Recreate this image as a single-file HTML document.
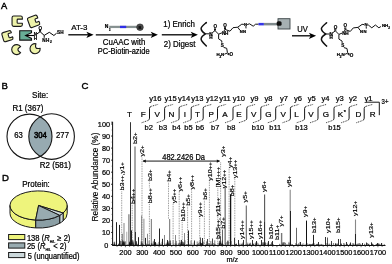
<!DOCTYPE html>
<html><head><meta charset="utf-8"><style>
html,body{margin:0;padding:0;background:#fff;}
body{width:392px;height:264px;overflow:hidden;}
svg{display:block;font-family:"Liberation Sans", Arial, sans-serif;}
text{stroke:#000;stroke-width:0.22px;}
.at{stroke-width:0.22px;}
.rl{stroke-width:0.2px;}
</style></head><body>
<svg width="392" height="264" viewBox="0 0 392 264">
<rect width="392" height="264" fill="#fff"/>
<text x="0" y="0" font-size="9.3" text-anchor="start" font-weight="normal" fill="#000" transform="translate(1.0,8.5) scale(1,1.0)" style="stroke-width:0.45px">A</text>
<path transform="translate(17.2,21.2) rotate(0)" d="M-3.5500000000000003,-5.15 L3.5500000000000003,-5.15 Q5.15,-5.15 5.15,-3.5500000000000003 L5.15,-2.05 L0.7500000000000002,-2.05 Q-0.04999999999999982,-2.05 -0.04999999999999982,-1.2499999999999998 L-0.04999999999999982,1.2499999999999998 Q-0.04999999999999982,2.05 0.7500000000000002,2.05 L5.15,2.05 L5.15,3.5500000000000003 Q5.15,5.15 3.5500000000000003,5.15 L-3.5500000000000003,5.15 Q-5.15,5.15 -5.15,3.5500000000000003 L-5.15,-3.5500000000000003 Q-5.15,-5.15 -3.5500000000000003,-5.15 Z" fill="#eef3aa" stroke="#1a1a1a" stroke-width="1.1" stroke-linejoin="round"/>
<path transform="translate(33.6,21.4) rotate(-20)" d="M-3.4999999999999996,-5.2 L3.4999999999999996,-5.2 Q5.1,-5.2 5.1,-3.6 L5.1,-1.8 L2.6999999999999993,-1.8 Q1.8999999999999995,-1.8 1.8999999999999995,-1.0 L1.8999999999999995,1.0 Q1.8999999999999995,1.8 2.6999999999999993,1.8 L5.1,1.8 L5.1,3.6 Q5.1,5.2 3.4999999999999996,5.2 L-3.4999999999999996,5.2 Q-5.1,5.2 -5.1,3.6 L-5.1,-3.6 Q-5.1,-5.2 -3.4999999999999996,-5.2 Z" fill="#eef3aa" stroke="#1a1a1a" stroke-width="1.1" stroke-linejoin="round"/>
<path transform="translate(7.4,36.2) rotate(-17)" d="M-3.1999999999999997,-4.7 L3.1999999999999997,-4.7 Q4.8,-4.7 4.8,-3.1 L4.8,-2.2 L1.9999999999999998,-2.2 Q1.1999999999999997,-2.2 1.1999999999999997,-1.4000000000000001 L1.1999999999999997,1.4000000000000001 Q1.1999999999999997,2.2 1.9999999999999998,2.2 L4.8,2.2 L4.8,3.1 Q4.8,4.7 3.1999999999999997,4.7 L-3.1999999999999997,4.7 Q-4.8,4.7 -4.8,3.1 L-4.8,-3.1 Q-4.8,-4.7 -3.1999999999999997,-4.7 Z" fill="#eef3aa" stroke="#1a1a1a" stroke-width="1.1" stroke-linejoin="round"/>
<path transform="translate(16.7,49.6) rotate(0)" d="M3.94,-3.08 A5.0,5.0 0 1 0 3.94,3.08 Q1.00,1.25 1.25,0 Q1.00,-1.25 3.94,-3.08 Z" fill="#eef3aa" stroke="#1a1a1a" stroke-width="1.1" stroke-linejoin="round"/>
<path transform="translate(35.1,48.7) rotate(-42)" d="M4.02,-3.14 A5.1,5.1 0 1 0 4.02,3.14 Q1.02,1.27 1.27,0 Q1.02,-1.27 4.02,-3.14 Z" fill="#eef3aa" stroke="#1a1a1a" stroke-width="1.1" stroke-linejoin="round"/>
<path d="M19.7,30.7 L31.5,30.7 L31.5,32.7 L25.6,35.5 L31.5,38.4 L31.5,40.1 L19.7,40.1 Z" fill="#68ad96" stroke="#111" stroke-width="1.1" stroke-linejoin="miter"/>
<line x1="25.6" y1="35.5" x2="34.2" y2="35.5" stroke="#000" stroke-width="1.1" />
<text x="35.3" y="36.46" font-size="4.6" text-anchor="middle" font-weight="bold" class="at">N</text>
<text x="35.3" y="39.66" font-size="4.6" text-anchor="middle" font-weight="bold" class="at">H</text>
<line x1="36.9" y1="34.0" x2="40.1" y2="31.7" stroke="#000" stroke-width="1.0" />
<line x1="39.6" y1="31.7" x2="39.6" y2="29.4" stroke="#000" stroke-width="1.0" />
<line x1="40.6" y1="31.7" x2="40.6" y2="29.4" stroke="#000" stroke-width="1.0" />
<text x="40.3" y="29.76" font-size="4.6" text-anchor="middle" font-weight="bold" class="at">O</text>
<line x1="40.1" y1="31.7" x2="44.2" y2="35.4" stroke="#000" stroke-width="1.0" />
<line x1="44.2" y1="35.4" x2="44.2" y2="37.8" stroke="#000" stroke-width="1.0" />
<text x="44.0" y="42.16" font-size="4.6" text-anchor="middle" font-weight="bold" class="at">N</text>
<text x="47.6" y="42.16" font-size="4.6" text-anchor="middle" font-weight="bold" class="at">H</text>
<text x="50.0" y="42.6" font-size="3.2" font-weight="bold" class="at">2</text>
<line x1="44.2" y1="35.4" x2="49.3" y2="32.3" stroke="#000" stroke-width="1.0" />
<line x1="49.3" y1="32.3" x2="53.9" y2="35.5" stroke="#000" stroke-width="1.0" />
<line x1="53.9" y1="35.5" x2="56.6" y2="33.2" stroke="#000" stroke-width="1.0" />
<text x="60.3" y="33.66" font-size="4.6" text-anchor="middle" font-weight="bold" class="at">SH</text>
<line x1="68.3" y1="34.8" x2="88.39999999999999" y2="34.8" stroke="#000" stroke-width="1.3" />
<path d="M86.39999999999999,31.699999999999996 L93.6,34.8 L86.39999999999999,37.9 L88.19999999999999,34.8 Z" fill="#000"/>
<text x="0" y="0" font-size="7.95" text-anchor="start" font-weight="normal" fill="#000" transform="translate(71.2,30.0) scale(1,0.97)" >AT-3</text>
<line x1="95.8" y1="34.8" x2="152.70000000000002" y2="34.8" stroke="#000" stroke-width="1.3" />
<path d="M150.70000000000002,31.699999999999996 L157.9,34.8 L150.70000000000002,37.9 L152.50000000000003,34.8 Z" fill="#000"/>
<text x="106.5" y="28.10" font-size="5.0" text-anchor="middle" font-weight="bold" class="at">N</text>
<text x="108.9" y="31.0" font-size="2.6" font-weight="bold" class="at">3</text>
<rect x="109.6" y="26.0" width="28.0" height="1.9" fill="#8d9898" stroke="#5a6666" stroke-width="0.3"/>
<rect x="120.0" y="25.8" width="6.2" height="2.3" fill="#3030e6"/>
<circle cx="140.0" cy="27.2" r="3.3" fill="#4a4a4a" stroke="#222" stroke-width="0.6"/>
<text x="140.0" y="28.7" font-size="4.0" font-weight="bold" text-anchor="middle" fill="#111" class="at">B</text>
<text x="0" y="0" font-size="7.9" text-anchor="start" font-weight="normal" fill="#000" transform="translate(102.8,44.8) scale(1,1.1)" >CuAAC with</text>
<text x="0" y="0" font-size="7.45" text-anchor="start" font-weight="normal" fill="#000" transform="translate(97.8,53.6) scale(1,1.1)" >PC-Biotin-azide</text>
<line x1="161.8" y1="34.8" x2="192.70000000000002" y2="34.8" stroke="#000" stroke-width="1.3" />
<path d="M190.70000000000002,31.699999999999996 L197.9,34.8 L190.70000000000002,37.9 L192.50000000000003,34.8 Z" fill="#000"/>
<text x="0" y="0" font-size="7.9" text-anchor="start" font-weight="normal" fill="#000" transform="translate(163.3,27.0) scale(1,1.1)" >1) Enrich</text>
<text x="0" y="0" font-size="7.9" text-anchor="start" font-weight="normal" fill="#000" transform="translate(163.8,46.6) scale(1,1.1)" >2) Digest</text>
<path d="M206.3,22.6 C205.3,23.6 201.0,26.3 201.1,28.6 C201.2,30.6 203.5,32.6 205.4,33.8 C203.5,35.0 201.2,37.0 201.1,39.0 C201.0,41.3 205.3,44.8 206.3,45.9" fill="none" stroke="#111" stroke-width="1.5" stroke-linecap="round" stroke-linejoin="round"/>
<path d="M205.4,33.8 L209.5,33.8" fill="none" stroke="#111" stroke-width="1.0" stroke-linejoin="round"/>
<text x="210.9" y="35.56" font-size="4.6" text-anchor="middle" font-weight="bold" class="at">N</text>
<text x="210.9" y="38.76" font-size="4.6" text-anchor="middle" font-weight="bold" class="at">H</text>
<path d="M212.3,32.7 L215.0,30.6" fill="none" stroke="#111" stroke-width="1.0" stroke-linejoin="round"/>
<path d="M214.5,30.6 L214.5,28.4" fill="none" stroke="#111" stroke-width="1.0" stroke-linejoin="round"/>
<path d="M215.5,30.6 L215.5,28.4" fill="none" stroke="#111" stroke-width="1.0" stroke-linejoin="round"/>
<text x="215.2" y="28.46" font-size="4.6" text-anchor="middle" font-weight="bold" class="at">O</text>
<path d="M215.0,30.6 L218.6,34.2" fill="none" stroke="#111" stroke-width="1.0" stroke-linejoin="round"/>
<path d="M218.6,34.2 L222.0,32.8" fill="none" stroke="#111" stroke-width="1.0" stroke-linejoin="round"/>
<text x="223.6" y="34.66" font-size="4.6" text-anchor="middle" font-weight="bold" class="at">N</text>
<text x="226.6" y="34.66" font-size="4.6" text-anchor="middle" font-weight="bold" class="at">H</text>
<path d="M223.8,31.3 L225.0,29.4" fill="none" stroke="#111" stroke-width="1.0" stroke-linejoin="round"/>
<path d="M224.5,29.4 L224.5,27.2" fill="none" stroke="#111" stroke-width="1.0" stroke-linejoin="round"/>
<path d="M225.5,29.4 L225.5,27.2" fill="none" stroke="#111" stroke-width="1.0" stroke-linejoin="round"/>
<text x="225.1" y="27.06" font-size="4.6" text-anchor="middle" font-weight="bold" class="at">O</text>
<path d="M225.0,29.4 L230.0,31.2 L233.0,27.7 L237.7,27.2" fill="none" stroke="#111" stroke-width="1.0" stroke-linejoin="round"/>
<path d="M237.7,27.2 L241.8,24.2 L243.9,24.4" fill="none" stroke="#111" stroke-width="1.0" stroke-linejoin="round"/>
<path d="M237.7,27.2 L239.9,30.2" fill="none" stroke="#111" stroke-width="1.0" stroke-linejoin="round"/>
<text x="245.6" y="26.11" font-size="4.2" text-anchor="middle" font-weight="bold" class="at">N</text>
<text x="241.3" y="32.51" font-size="4.2" text-anchor="middle" font-weight="bold" class="at">N</text>
<text x="244.6" y="32.51" font-size="4.2" text-anchor="middle" font-weight="bold" class="at">N</text>
<path d="M245.9,26.0 L246.0,28.4" fill="none" stroke="#111" stroke-width="1.0" stroke-linejoin="round"/>
<path d="M218.6,34.2 L218.6,38.9 L221.8,40.9 L221.8,42.7" fill="none" stroke="#111" stroke-width="1.0" stroke-linejoin="round"/>
<text x="222.4" y="46.86" font-size="4.6" text-anchor="middle" font-weight="bold" class="at">S</text>
<path d="M223.6,47.4 L226.7,48.3 L227.4,52.6" fill="none" stroke="#111" stroke-width="1.0" stroke-linejoin="round"/>
<text x="218.1" y="56.08" font-size="4.4" text-anchor="middle" font-weight="bold" class="at">H</text>
<text x="222.7" y="56.08" font-size="4.4" text-anchor="middle" font-weight="bold" class="at">N</text>
<text x="219.5" y="57.6" font-size="3.0" font-weight="bold" class="at">2</text>
<path d="M224.4,54.2 L227.4,53.0" fill="none" stroke="#111" stroke-width="1.0" stroke-linejoin="round"/>
<path d="M227.6,53.0 L229.6,54.0" fill="none" stroke="#111" stroke-width="1.0" stroke-linejoin="round"/>
<path d="M227.3,54.0 L229.3,55.0" fill="none" stroke="#111" stroke-width="1.0" stroke-linejoin="round"/>
<text x="231.2" y="56.36" font-size="4.6" text-anchor="middle" font-weight="bold" class="at">O</text>
<path d="M247.2,24.6 L249.5,23.8 L253.2,26.2 L255.6,24.2 L258.6,24.2" fill="none" stroke="#111" stroke-width="1.0" stroke-linejoin="round"/>
<rect x="258.5" y="22.9" width="5.4" height="2.5" fill="#3535e8"/>
<rect x="263.9" y="22.9" width="14.0" height="2.5" fill="#7f8a8c"/>
<rect x="278.0" y="18.7" width="12.0" height="10.3" fill="#a6b0b2" stroke="#3a4446" stroke-width="0.9"/>
<rect x="276.7" y="21.2" width="4.9" height="4.6" rx="1.6" fill="#111"/>
<line x1="292.0" y1="35.8" x2="310.90000000000003" y2="35.8" stroke="#000" stroke-width="1.3" />
<path d="M308.90000000000003,32.699999999999996 L316.1,35.8 L308.90000000000003,38.9 L310.70000000000005,35.8 Z" fill="#000"/>
<text x="0" y="0" font-size="7.6" text-anchor="start" font-weight="normal" fill="#000" transform="translate(297.3,31.6) scale(1,1.1)" >UV</text>
<path d="M326.6,22.8 C325.6,23.8 321.3,26.5 321.4,28.8 C321.5,30.8 323.8,32.8 325.7,34.0 C323.8,35.2 321.5,37.2 321.4,39.2 C321.3,41.5 325.6,45.0 326.6,46.1" fill="none" stroke="#111" stroke-width="1.5" stroke-linecap="round" stroke-linejoin="round"/>
<path d="M325.7,34.0 L329.8,34.0" fill="none" stroke="#111" stroke-width="1.0" stroke-linejoin="round"/>
<text x="331.2" y="35.76" font-size="4.6" text-anchor="middle" font-weight="bold" class="at">N</text>
<text x="331.2" y="38.96" font-size="4.6" text-anchor="middle" font-weight="bold" class="at">H</text>
<path d="M332.6,32.9 L335.3,30.8" fill="none" stroke="#111" stroke-width="1.0" stroke-linejoin="round"/>
<path d="M334.8,30.8 L334.8,28.6" fill="none" stroke="#111" stroke-width="1.0" stroke-linejoin="round"/>
<path d="M335.8,30.8 L335.8,28.6" fill="none" stroke="#111" stroke-width="1.0" stroke-linejoin="round"/>
<text x="335.5" y="28.66" font-size="4.6" text-anchor="middle" font-weight="bold" class="at">O</text>
<path d="M335.3,30.8 L338.9,34.4" fill="none" stroke="#111" stroke-width="1.0" stroke-linejoin="round"/>
<path d="M338.9,34.4 L342.3,33.0" fill="none" stroke="#111" stroke-width="1.0" stroke-linejoin="round"/>
<text x="343.9" y="34.86" font-size="4.6" text-anchor="middle" font-weight="bold" class="at">N</text>
<text x="346.9" y="34.86" font-size="4.6" text-anchor="middle" font-weight="bold" class="at">H</text>
<path d="M344.1,31.5 L345.3,29.6" fill="none" stroke="#111" stroke-width="1.0" stroke-linejoin="round"/>
<path d="M344.8,29.6 L344.8,27.4" fill="none" stroke="#111" stroke-width="1.0" stroke-linejoin="round"/>
<path d="M345.8,29.6 L345.8,27.4" fill="none" stroke="#111" stroke-width="1.0" stroke-linejoin="round"/>
<text x="345.4" y="27.26" font-size="4.6" text-anchor="middle" font-weight="bold" class="at">O</text>
<path d="M345.3,29.6 L350.3,31.4 L353.3,27.9 L358.0,27.4" fill="none" stroke="#111" stroke-width="1.0" stroke-linejoin="round"/>
<path d="M358.0,27.4 L362.1,24.4 L364.2,24.6" fill="none" stroke="#111" stroke-width="1.0" stroke-linejoin="round"/>
<path d="M358.0,27.4 L360.2,30.4" fill="none" stroke="#111" stroke-width="1.0" stroke-linejoin="round"/>
<text x="365.9" y="26.31" font-size="4.2" text-anchor="middle" font-weight="bold" class="at">N</text>
<text x="361.6" y="32.71" font-size="4.2" text-anchor="middle" font-weight="bold" class="at">N</text>
<text x="364.9" y="32.71" font-size="4.2" text-anchor="middle" font-weight="bold" class="at">N</text>
<path d="M366.2,26.2 L366.3,28.6" fill="none" stroke="#111" stroke-width="1.0" stroke-linejoin="round"/>
<path d="M338.9,34.4 L338.9,39.1 L342.1,41.1 L342.1,42.9" fill="none" stroke="#111" stroke-width="1.0" stroke-linejoin="round"/>
<text x="342.7" y="47.06" font-size="4.6" text-anchor="middle" font-weight="bold" class="at">S</text>
<path d="M343.9,47.6 L347.0,48.5 L347.7,52.8" fill="none" stroke="#111" stroke-width="1.0" stroke-linejoin="round"/>
<text x="338.4" y="56.28" font-size="4.4" text-anchor="middle" font-weight="bold" class="at">H</text>
<text x="343.0" y="56.28" font-size="4.4" text-anchor="middle" font-weight="bold" class="at">N</text>
<text x="339.8" y="57.8" font-size="3.0" font-weight="bold" class="at">2</text>
<path d="M344.7,54.4 L347.7,53.2" fill="none" stroke="#111" stroke-width="1.0" stroke-linejoin="round"/>
<path d="M347.9,53.2 L349.9,54.2" fill="none" stroke="#111" stroke-width="1.0" stroke-linejoin="round"/>
<path d="M347.6,54.2 L349.6,55.2" fill="none" stroke="#111" stroke-width="1.0" stroke-linejoin="round"/>
<text x="351.5" y="56.56" font-size="4.6" text-anchor="middle" font-weight="bold" class="at">O</text>
<path d="M367.5,24.8 L368.3,25.0 L371.8,27.8 L375.4,25.0 L378.9,27.8 L380.9,26.5" fill="none" stroke="#111" stroke-width="1.0" stroke-linejoin="round"/>
<text x="385.1" y="27.38" font-size="4.4" text-anchor="middle" font-weight="bold" class="at">NH</text>
<text x="388.3" y="28.6" font-size="3.0" font-weight="bold" class="at">2</text>
<text x="0" y="0" font-size="9.6" text-anchor="start" font-weight="normal" fill="#000" transform="translate(1.5,89.3) scale(1,1.0)" style="stroke-width:0.4px">B</text>
<text x="0" y="0" font-size="8.1" text-anchor="start" font-weight="normal" fill="#000" transform="translate(32.0,98.1) scale(1,1.1)" >Site:</text>
<text x="0" y="0" font-size="8.0" text-anchor="start" font-weight="normal" fill="#000" transform="translate(12.4,110.9) scale(1,1.1)" >R1 (367)</text>
<path d="M40.24,116.83 A22.5,22.5 0 0 1 40.24,156.37 A22.8,22.8 0 0 1 40.24,116.83 Z" fill="#97aab1"/>
<circle cx="29.5" cy="136.6" r="22.5" fill="none" stroke="#151515" stroke-width="1.1"/>
<circle cx="51.6" cy="136.6" r="22.8" fill="none" stroke="#151515" stroke-width="1.1"/>
<text x="0" y="0" font-size="7.7" text-anchor="middle" font-weight="normal" fill="#000" transform="translate(18.6,138.3) scale(1,1.1)" >63</text>
<text x="0" y="0" font-size="7.7" text-anchor="middle" font-weight="normal" fill="#000" transform="translate(40.4,138.3) scale(1,1.1)" style="stroke-width:0.5px">304</text>
<text x="0" y="0" font-size="7.7" text-anchor="middle" font-weight="normal" fill="#000" transform="translate(62.5,138.3) scale(1,1.1)" >277</text>
<text x="0" y="0" font-size="8.0" text-anchor="start" font-weight="normal" fill="#000" transform="translate(39.8,168.0) scale(1,1.1)" >R2 (581)</text>
<text x="0" y="0" font-size="9.6" text-anchor="start" font-weight="normal" fill="#000" transform="translate(1.9,181.4) scale(1,1.0)" style="stroke-width:0.4px">D</text>
<text x="0" y="0" font-size="8.0" text-anchor="start" font-weight="normal" fill="#000" transform="translate(22.3,187.2) scale(1,1.1)" >Protein:</text>
<path d="M67.20,205.50 A28.6,14.6 0 0 1 63.11,213.02 L63.11,220.92 A28.6,14.6 0 0 0 67.20,213.40 Z" fill="#eef47c" stroke="#1a1a1a" stroke-width="1.0" stroke-linejoin="round"/>
<path d="M63.11,213.02 A28.6,14.6 0 0 1 59.69,215.36 L59.69,223.26 A28.6,14.6 0 0 0 63.11,220.92 Z" fill="#cbd8db" stroke="#1a1a1a" stroke-width="1.0" stroke-linejoin="round"/>
<path d="M59.69,215.36 A28.6,14.6 0 0 1 35.61,220.02 L35.61,227.92 A28.6,14.6 0 0 0 59.69,223.26 Z" fill="#8a9ea4" stroke="#1a1a1a" stroke-width="1.0" stroke-linejoin="round"/>
<path d="M35.61,220.02 A28.6,14.6 0 0 1 10.00,205.50 L10.00,213.40 A28.6,14.6 0 0 0 35.61,227.92 Z" fill="#eef47c" stroke="#1a1a1a" stroke-width="1.0" stroke-linejoin="round"/>
<path d="M38.6,205.5 L35.61,220.02 A28.6,14.6 0 1 1 63.11,213.02 Z" fill="#eef47c" stroke="#1a1a1a" stroke-width="1.0" stroke-linejoin="round"/>
<path d="M38.6,205.5 L63.11,213.02 A28.6,14.6 0 0 1 59.69,215.36 Z" fill="#cbd8db" stroke="#1a1a1a" stroke-width="1.0" stroke-linejoin="round"/>
<path d="M38.6,205.5 L59.69,215.36 A28.6,14.6 0 0 1 35.61,220.02 Z" fill="#98abb0" stroke="#1a1a1a" stroke-width="1.0" stroke-linejoin="round"/>
<rect x="8.6" y="234.5" width="16.2" height="5.1" fill="#eef47c" stroke="#1a1a1a" stroke-width="1.0"/>
<rect x="8.6" y="242.9" width="16.2" height="5.2" fill="#98abb0" stroke="#1a1a1a" stroke-width="1.0"/>
<rect x="8.6" y="252.5" width="16.2" height="5.1" fill="#cbd8db" stroke="#1a1a1a" stroke-width="1.0"/>
<text x="0" y="0" transform="translate(26.9,240.9) scale(1,1.1)" font-size="7.6">138 (<tspan font-style="italic">R</tspan><tspan font-size="3.6" dy="1.6">H/L</tspan><tspan dy="-1.6"> ≥ 2)</tspan></text>
<text x="0" y="0" transform="translate(26.9,249.3) scale(1,1.1)" font-size="7.6">25 (<tspan font-style="italic">R</tspan><tspan font-size="3.6" dy="1.6">H/L</tspan><tspan dy="-1.6"> &lt; 2)</tspan></text>
<text x="0" y="0" font-size="7.45" text-anchor="start" font-weight="normal" fill="#000" transform="translate(27.7,258.9) scale(1,1.1)" >5 (unquantified)</text>
<text x="0" y="0" font-size="9.6" text-anchor="start" font-weight="normal" fill="#000" transform="translate(81.6,89.3) scale(1,1.0)" style="stroke-width:0.4px">C</text>
<text x="0" y="0" font-size="8.1" text-anchor="middle" font-weight="normal" fill="#000" transform="translate(129.5,117.1) scale(1,1.0)" >T</text>
<text x="0" y="0" font-size="8.1" text-anchor="middle" font-weight="normal" fill="#000" transform="translate(143.3,117.1) scale(1,1.0)" >F</text>
<text x="0" y="0" font-size="8.1" text-anchor="middle" font-weight="normal" fill="#000" transform="translate(157.2,117.1) scale(1,1.0)" >V</text>
<text x="0" y="0" font-size="8.1" text-anchor="middle" font-weight="normal" fill="#000" transform="translate(171.4,117.1) scale(1,1.0)" >N</text>
<text x="0" y="0" font-size="8.1" text-anchor="middle" font-weight="normal" fill="#000" transform="translate(184.8,117.1) scale(1,1.0)" >I</text>
<text x="0" y="0" font-size="8.1" text-anchor="middle" font-weight="normal" fill="#000" transform="translate(197.4,117.1) scale(1,1.0)" >T</text>
<text x="0" y="0" font-size="8.1" text-anchor="middle" font-weight="normal" fill="#000" transform="translate(211.2,117.1) scale(1,1.0)" >P</text>
<text x="0" y="0" font-size="8.1" text-anchor="middle" font-weight="normal" fill="#000" transform="translate(225.0,117.1) scale(1,1.0)" >A</text>
<text x="0" y="0" font-size="8.1" text-anchor="middle" font-weight="normal" fill="#000" transform="translate(239.0,117.1) scale(1,1.0)" >E</text>
<text x="0" y="0" font-size="8.1" text-anchor="middle" font-weight="normal" fill="#000" transform="translate(253.6,117.1) scale(1,1.0)" >V</text>
<text x="0" y="0" font-size="8.1" text-anchor="middle" font-weight="normal" fill="#000" transform="translate(268.5,117.1) scale(1,1.0)" >G</text>
<text x="0" y="0" font-size="8.1" text-anchor="middle" font-weight="normal" fill="#000" transform="translate(283.2,117.1) scale(1,1.0)" >V</text>
<text x="0" y="0" font-size="8.1" text-anchor="middle" font-weight="normal" fill="#000" transform="translate(296.6,117.1) scale(1,1.0)" >L</text>
<text x="0" y="0" font-size="8.1" text-anchor="middle" font-weight="normal" fill="#000" transform="translate(310.9,117.1) scale(1,1.0)" >V</text>
<text x="0" y="0" font-size="8.1" text-anchor="middle" font-weight="normal" fill="#000" transform="translate(325.8,117.1) scale(1,1.0)" >G</text>
<text x="0" y="0" font-size="8.1" text-anchor="middle" font-weight="normal" fill="#000" transform="translate(340.5,117.1) scale(1,1.0)" >K</text>
<text x="0" y="0" font-size="8.1" text-anchor="middle" font-weight="normal" fill="#000" transform="translate(358.5,117.1) scale(1,1.0)" >D</text>
<text x="0" y="0" font-size="8.1" text-anchor="middle" font-weight="normal" fill="#000" transform="translate(372.7,117.1) scale(1,1.0)" >R</text>
<text x="0" y="0" font-size="5.5" text-anchor="middle" font-weight="normal" fill="#000" transform="translate(344.8,114.3) scale(1,1.1)" >*</text>
<path d="M148.3,120.2 Q149.5,119.8 149.5,118.2 L149.5,108.4 Q149.5,106.9 150.9,106.6" fill="none" stroke="#151515" stroke-width="1.0"/>
<line x1="151.3" y1="106.3" x2="158.3" y2="104.3" stroke="#222" stroke-width="0.9" stroke-dasharray="1,0.8"/>
<line x1="147.7" y1="120.6" x2="140.9" y2="123.0" stroke="#222" stroke-width="0.9" stroke-dasharray="1,0.8"/>
<path d="M163.4,120.2 Q164.6,119.8 164.6,118.2 L164.6,108.4 Q164.6,106.9 166.0,106.6" fill="none" stroke="#151515" stroke-width="1.0"/>
<line x1="166.4" y1="106.3" x2="173.4" y2="104.3" stroke="#222" stroke-width="0.9" stroke-dasharray="1,0.8"/>
<line x1="162.79999999999998" y1="120.6" x2="156.0" y2="123.0" stroke="#222" stroke-width="0.9" stroke-dasharray="1,0.8"/>
<path d="M177.9,120.2 Q179.1,119.8 179.1,118.2 L179.1,108.4 Q179.1,106.9 180.5,106.6" fill="none" stroke="#151515" stroke-width="1.0"/>
<line x1="180.9" y1="106.3" x2="187.9" y2="104.3" stroke="#222" stroke-width="0.9" stroke-dasharray="1,0.8"/>
<line x1="177.29999999999998" y1="120.6" x2="170.5" y2="123.0" stroke="#222" stroke-width="0.9" stroke-dasharray="1,0.8"/>
<path d="M190.0,120.2 Q191.2,119.8 191.2,118.2 L191.2,108.4 Q191.2,106.9 192.6,106.6" fill="none" stroke="#151515" stroke-width="1.0"/>
<line x1="193.0" y1="106.3" x2="200.0" y2="104.3" stroke="#222" stroke-width="0.9" stroke-dasharray="1,0.8"/>
<line x1="189.39999999999998" y1="120.6" x2="182.6" y2="123.0" stroke="#222" stroke-width="0.9" stroke-dasharray="1,0.8"/>
<path d="M202.0,120.2 Q203.2,119.8 203.2,118.2 L203.2,108.4 Q203.2,106.9 204.6,106.6" fill="none" stroke="#151515" stroke-width="1.0"/>
<line x1="205.0" y1="106.3" x2="212.0" y2="104.3" stroke="#222" stroke-width="0.9" stroke-dasharray="1,0.8"/>
<line x1="201.39999999999998" y1="120.6" x2="194.6" y2="123.0" stroke="#222" stroke-width="0.9" stroke-dasharray="1,0.8"/>
<path d="M216.3,120.2 Q217.5,119.8 217.5,118.2 L217.5,108.4 Q217.5,106.9 218.9,106.6" fill="none" stroke="#151515" stroke-width="1.0"/>
<line x1="219.3" y1="106.3" x2="226.3" y2="104.3" stroke="#222" stroke-width="0.9" stroke-dasharray="1,0.8"/>
<line x1="215.7" y1="120.6" x2="208.9" y2="123.0" stroke="#222" stroke-width="0.9" stroke-dasharray="1,0.8"/>
<path d="M231.8,120.2 Q233.0,119.8 233.0,118.2 L233.0,108.4 Q233.0,106.9 234.4,106.6" fill="none" stroke="#151515" stroke-width="1.0"/>
<line x1="234.8" y1="106.3" x2="241.8" y2="104.3" stroke="#222" stroke-width="0.9" stroke-dasharray="1,0.8"/>
<line x1="231.2" y1="120.6" x2="224.4" y2="123.0" stroke="#222" stroke-width="0.9" stroke-dasharray="1,0.8"/>
<path d="M245.60000000000002,120.2 Q246.8,119.8 246.8,118.2 L246.8,108.4 Q246.8,106.9 248.20000000000002,106.6" fill="none" stroke="#151515" stroke-width="1.0"/>
<line x1="248.60000000000002" y1="106.3" x2="255.60000000000002" y2="104.3" stroke="#222" stroke-width="0.9" stroke-dasharray="1,0.8"/>
<line x1="245.0" y1="120.6" x2="238.20000000000002" y2="123.0" stroke="#222" stroke-width="0.9" stroke-dasharray="1,0.8"/>
<path d="M259.6,120.2 Q260.8,119.8 260.8,118.2 L260.8,108.4 Q260.8,106.9 262.2,106.6" fill="none" stroke="#151515" stroke-width="1.0"/>
<line x1="262.6" y1="106.3" x2="269.6" y2="104.3" stroke="#222" stroke-width="0.9" stroke-dasharray="1,0.8"/>
<line x1="259.0" y1="120.6" x2="252.20000000000002" y2="123.0" stroke="#222" stroke-width="0.9" stroke-dasharray="1,0.8"/>
<path d="M274.5,120.2 Q275.7,119.8 275.7,118.2 L275.7,108.4 Q275.7,106.9 277.09999999999997,106.6" fill="none" stroke="#151515" stroke-width="1.0"/>
<line x1="277.5" y1="106.3" x2="284.5" y2="104.3" stroke="#222" stroke-width="0.9" stroke-dasharray="1,0.8"/>
<line x1="273.9" y1="120.6" x2="267.09999999999997" y2="123.0" stroke="#222" stroke-width="0.9" stroke-dasharray="1,0.8"/>
<path d="M289.2,120.2 Q290.4,119.8 290.4,118.2 L290.4,108.4 Q290.4,106.9 291.79999999999995,106.6" fill="none" stroke="#151515" stroke-width="1.0"/>
<line x1="292.2" y1="106.3" x2="299.2" y2="104.3" stroke="#222" stroke-width="0.9" stroke-dasharray="1,0.8"/>
<line x1="288.59999999999997" y1="120.6" x2="281.79999999999995" y2="123.0" stroke="#222" stroke-width="0.9" stroke-dasharray="1,0.8"/>
<path d="M303.40000000000003,120.2 Q304.6,119.8 304.6,118.2 L304.6,108.4 Q304.6,106.9 306.0,106.6" fill="none" stroke="#151515" stroke-width="1.0"/>
<line x1="306.40000000000003" y1="106.3" x2="313.40000000000003" y2="104.3" stroke="#222" stroke-width="0.9" stroke-dasharray="1,0.8"/>
<line x1="302.8" y1="120.6" x2="296.0" y2="123.0" stroke="#222" stroke-width="0.9" stroke-dasharray="1,0.8"/>
<path d="M316.8,120.2 Q318.0,119.8 318.0,118.2 L318.0,108.4 Q318.0,106.9 319.4,106.6" fill="none" stroke="#151515" stroke-width="1.0"/>
<line x1="319.8" y1="106.3" x2="326.8" y2="104.3" stroke="#222" stroke-width="0.9" stroke-dasharray="1,0.8"/>
<line x1="316.2" y1="120.6" x2="309.4" y2="123.0" stroke="#222" stroke-width="0.9" stroke-dasharray="1,0.8"/>
<path d="M332.8,120.2 Q334.0,119.8 334.0,118.2 L334.0,108.4 Q334.0,106.9 335.4,106.6" fill="none" stroke="#151515" stroke-width="1.0"/>
<line x1="335.8" y1="106.3" x2="342.8" y2="104.3" stroke="#222" stroke-width="0.9" stroke-dasharray="1,0.8"/>
<line x1="332.2" y1="120.6" x2="325.4" y2="123.0" stroke="#222" stroke-width="0.9" stroke-dasharray="1,0.8"/>
<path d="M347.90000000000003,120.2 Q349.1,119.8 349.1,118.2 L349.1,108.4 Q349.1,106.9 350.5,106.6" fill="none" stroke="#151515" stroke-width="1.0"/>
<line x1="350.90000000000003" y1="106.3" x2="357.90000000000003" y2="104.3" stroke="#222" stroke-width="0.9" stroke-dasharray="1,0.8"/>
<line x1="347.3" y1="120.6" x2="340.5" y2="123.0" stroke="#222" stroke-width="0.9" stroke-dasharray="1,0.8"/>
<path d="M363.0,120.2 Q364.2,119.8 364.2,118.2 L364.2,108.4 Q364.2,106.9 365.59999999999997,106.6" fill="none" stroke="#151515" stroke-width="1.0"/>
<line x1="366.0" y1="106.3" x2="373.0" y2="104.3" stroke="#222" stroke-width="0.9" stroke-dasharray="1,0.8"/>
<line x1="362.4" y1="120.6" x2="355.59999999999997" y2="123.0" stroke="#222" stroke-width="0.9" stroke-dasharray="1,0.8"/>
<path d="M366.0,102.2 L379.3,102.2 L379.3,115.2" fill="none" stroke="#151515" stroke-width="1.0"/>
<text x="0" y="0" font-size="6.0" text-anchor="start" font-weight="normal" fill="#000" transform="translate(381.6,104.0) scale(1,1.1)" >3+</text>
<text x="0" y="0" font-size="7.6" text-anchor="middle" font-weight="normal" fill="#000" transform="translate(155.4,101.3) scale(1,1.0)" >y16</text>
<text x="0" y="0" font-size="7.6" text-anchor="middle" font-weight="normal" fill="#000" transform="translate(170.6,101.3) scale(1,1.0)" >y15</text>
<text x="0" y="0" font-size="7.6" text-anchor="middle" font-weight="normal" fill="#000" transform="translate(184.0,101.3) scale(1,1.0)" >y14</text>
<text x="0" y="0" font-size="7.6" text-anchor="middle" font-weight="normal" fill="#000" transform="translate(197.4,101.3) scale(1,1.0)" >y13</text>
<text x="0" y="0" font-size="7.6" text-anchor="middle" font-weight="normal" fill="#000" transform="translate(212.1,101.3) scale(1,1.0)" >y12</text>
<text x="0" y="0" font-size="7.6" text-anchor="middle" font-weight="normal" fill="#000" transform="translate(225.0,101.3) scale(1,1.0)" >y11</text>
<text x="0" y="0" font-size="7.6" text-anchor="middle" font-weight="normal" fill="#000" transform="translate(238.8,101.3) scale(1,1.0)" >y10</text>
<text x="0" y="0" font-size="7.6" text-anchor="middle" font-weight="normal" fill="#000" transform="translate(254.5,101.3) scale(1,1.0)" >y9</text>
<text x="0" y="0" font-size="7.6" text-anchor="middle" font-weight="normal" fill="#000" transform="translate(268.5,101.3) scale(1,1.0)" >y8</text>
<text x="0" y="0" font-size="7.6" text-anchor="middle" font-weight="normal" fill="#000" transform="translate(284.0,101.3) scale(1,1.0)" >y7</text>
<text x="0" y="0" font-size="7.6" text-anchor="middle" font-weight="normal" fill="#000" transform="translate(298.0,101.3) scale(1,1.0)" >y6</text>
<text x="0" y="0" font-size="7.6" text-anchor="middle" font-weight="normal" fill="#000" transform="translate(311.8,101.3) scale(1,1.0)" >y5</text>
<text x="0" y="0" font-size="7.6" text-anchor="middle" font-weight="normal" fill="#000" transform="translate(325.5,101.3) scale(1,1.0)" >y4</text>
<text x="0" y="0" font-size="7.6" text-anchor="middle" font-weight="normal" fill="#000" transform="translate(339.7,101.3) scale(1,1.0)" >y3</text>
<text x="0" y="0" font-size="7.6" text-anchor="middle" font-weight="normal" fill="#000" transform="translate(352.9,101.3) scale(1,1.0)" >y2</text>
<text x="0" y="0" font-size="7.6" text-anchor="middle" font-weight="normal" fill="#000" transform="translate(368.5,101.3) scale(1,1.0)" >y1</text>
<text x="0" y="0" font-size="7.5" text-anchor="middle" font-weight="normal" fill="#000" transform="translate(148.7,130.3) scale(1,1.0)" >b2</text>
<text x="0" y="0" font-size="7.5" text-anchor="middle" font-weight="normal" fill="#000" transform="translate(163.0,130.3) scale(1,1.0)" >b3</text>
<text x="0" y="0" font-size="7.5" text-anchor="middle" font-weight="normal" fill="#000" transform="translate(176.4,130.3) scale(1,1.0)" >b4</text>
<text x="0" y="0" font-size="7.5" text-anchor="middle" font-weight="normal" fill="#000" transform="translate(188.5,130.3) scale(1,1.0)" >b5</text>
<text x="0" y="0" font-size="7.5" text-anchor="middle" font-weight="normal" fill="#000" transform="translate(200.0,130.3) scale(1,1.0)" >b6</text>
<text x="0" y="0" font-size="7.5" text-anchor="middle" font-weight="normal" fill="#000" transform="translate(215.2,130.3) scale(1,1.0)" >b7</text>
<text x="0" y="0" font-size="7.5" text-anchor="middle" font-weight="normal" fill="#000" transform="translate(231.25,130.3) scale(1,1.0)" >b8</text>
<text x="0" y="0" font-size="7.5" text-anchor="middle" font-weight="normal" fill="#000" transform="translate(258.0,130.3) scale(1,1.0)" >b10</text>
<text x="0" y="0" font-size="7.5" text-anchor="middle" font-weight="normal" fill="#000" transform="translate(275.2,130.3) scale(1,1.0)" >b11</text>
<text x="0" y="0" font-size="7.5" text-anchor="middle" font-weight="normal" fill="#000" transform="translate(301.5,130.3) scale(1,1.0)" >b13</text>
<text x="0" y="0" font-size="7.5" text-anchor="middle" font-weight="normal" fill="#000" transform="translate(334.5,130.3) scale(1,1.0)" >b15</text>
<line x1="112.6" y1="121.8" x2="112.6" y2="245.6" stroke="#111" stroke-width="1.0" />
<line x1="111.19999999999999" y1="122.2" x2="112.6" y2="122.2" stroke="#111" stroke-width="0.8" />
<line x1="111.0" y1="244.5" x2="112.6" y2="244.5" stroke="#111" stroke-width="0.8" />
<line x1="111.6" y1="238.475" x2="112.6" y2="238.475" stroke="#333" stroke-width="0.6" />
<text x="0" y="0" font-size="7.3" text-anchor="end" font-weight="normal" fill="#000" transform="translate(108.2,247.9) scale(1,1.1)" >0</text>
<line x1="111.0" y1="232.45" x2="112.6" y2="232.45" stroke="#111" stroke-width="0.8" />
<line x1="111.6" y1="226.42499999999998" x2="112.6" y2="226.42499999999998" stroke="#333" stroke-width="0.6" />
<text x="0" y="0" font-size="7.3" text-anchor="end" font-weight="normal" fill="#000" transform="translate(110.0,235.04999999999998) scale(1,1.1)" >10</text>
<line x1="111.0" y1="220.4" x2="112.6" y2="220.4" stroke="#111" stroke-width="0.8" />
<line x1="111.6" y1="214.375" x2="112.6" y2="214.375" stroke="#333" stroke-width="0.6" />
<text x="0" y="0" font-size="7.3" text-anchor="end" font-weight="normal" fill="#000" transform="translate(110.0,223.0) scale(1,1.1)" >20</text>
<line x1="111.0" y1="208.35" x2="112.6" y2="208.35" stroke="#111" stroke-width="0.8" />
<line x1="111.6" y1="202.325" x2="112.6" y2="202.325" stroke="#333" stroke-width="0.6" />
<text x="0" y="0" font-size="7.3" text-anchor="end" font-weight="normal" fill="#000" transform="translate(110.0,210.95) scale(1,1.1)" >30</text>
<line x1="111.0" y1="196.3" x2="112.6" y2="196.3" stroke="#111" stroke-width="0.8" />
<line x1="111.6" y1="190.275" x2="112.6" y2="190.275" stroke="#333" stroke-width="0.6" />
<text x="0" y="0" font-size="7.3" text-anchor="end" font-weight="normal" fill="#000" transform="translate(110.0,198.9) scale(1,1.1)" >40</text>
<line x1="111.0" y1="184.25" x2="112.6" y2="184.25" stroke="#111" stroke-width="0.8" />
<line x1="111.6" y1="178.225" x2="112.6" y2="178.225" stroke="#333" stroke-width="0.6" />
<text x="0" y="0" font-size="7.3" text-anchor="end" font-weight="normal" fill="#000" transform="translate(110.0,186.85) scale(1,1.1)" >50</text>
<line x1="111.0" y1="172.2" x2="112.6" y2="172.2" stroke="#111" stroke-width="0.8" />
<line x1="111.6" y1="166.17499999999998" x2="112.6" y2="166.17499999999998" stroke="#333" stroke-width="0.6" />
<text x="0" y="0" font-size="7.3" text-anchor="end" font-weight="normal" fill="#000" transform="translate(110.0,174.79999999999998) scale(1,1.1)" >60</text>
<line x1="111.0" y1="160.15" x2="112.6" y2="160.15" stroke="#111" stroke-width="0.8" />
<line x1="111.6" y1="154.125" x2="112.6" y2="154.125" stroke="#333" stroke-width="0.6" />
<text x="0" y="0" font-size="7.3" text-anchor="end" font-weight="normal" fill="#000" transform="translate(110.0,162.75) scale(1,1.1)" >70</text>
<line x1="111.0" y1="148.1" x2="112.6" y2="148.1" stroke="#111" stroke-width="0.8" />
<line x1="111.6" y1="142.075" x2="112.6" y2="142.075" stroke="#333" stroke-width="0.6" />
<text x="0" y="0" font-size="7.3" text-anchor="end" font-weight="normal" fill="#000" transform="translate(110.0,150.7) scale(1,1.1)" >80</text>
<line x1="111.0" y1="136.05" x2="112.6" y2="136.05" stroke="#111" stroke-width="0.8" />
<line x1="111.6" y1="130.025" x2="112.6" y2="130.025" stroke="#333" stroke-width="0.6" />
<text x="0" y="0" font-size="7.3" text-anchor="end" font-weight="normal" fill="#000" transform="translate(110.0,138.65) scale(1,1.1)" >90</text>
<line x1="111.0" y1="124.0" x2="112.6" y2="124.0" stroke="#111" stroke-width="0.8" />
<text x="0" y="0" font-size="7.3" text-anchor="end" font-weight="normal" fill="#000" transform="translate(110.0,126.6) scale(1,1.1)" >100</text>
<text x="0" y="0" font-size="8.3" text-anchor="middle" font-weight="normal" fill="#000" transform="translate(97.5,177.0) rotate(-90) scale(1,1.05)" style="stroke-width:0.15px">Relative Abundance (%)</text>
<text x="0" y="0" font-size="7.35" text-anchor="middle" font-weight="normal" fill="#000" transform="translate(125.43400000000001,255.4) scale(1,1.1)" >200</text>
<text x="0" y="0" font-size="7.35" text-anchor="middle" font-weight="normal" fill="#000" transform="translate(142.26600000000002,255.4) scale(1,1.1)" >300</text>
<text x="0" y="0" font-size="7.35" text-anchor="middle" font-weight="normal" fill="#000" transform="translate(159.098,255.4) scale(1,1.1)" >400</text>
<text x="0" y="0" font-size="7.35" text-anchor="middle" font-weight="normal" fill="#000" transform="translate(175.93,255.4) scale(1,1.1)" >500</text>
<text x="0" y="0" font-size="7.35" text-anchor="middle" font-weight="normal" fill="#000" transform="translate(192.76200000000003,255.4) scale(1,1.1)" >600</text>
<text x="0" y="0" font-size="7.35" text-anchor="middle" font-weight="normal" fill="#000" transform="translate(209.59400000000002,255.4) scale(1,1.1)" >700</text>
<text x="0" y="0" font-size="7.35" text-anchor="middle" font-weight="normal" fill="#000" transform="translate(226.42600000000002,255.4) scale(1,1.1)" >800</text>
<text x="0" y="0" font-size="7.35" text-anchor="middle" font-weight="normal" fill="#000" transform="translate(243.258,255.4) scale(1,1.1)" >900</text>
<text x="0" y="0" font-size="7.35" text-anchor="middle" font-weight="normal" fill="#000" transform="translate(260.09,255.4) scale(1,1.1)" >1000</text>
<text x="0" y="0" font-size="7.35" text-anchor="middle" font-weight="normal" fill="#000" transform="translate(276.92199999999997,255.4) scale(1,1.1)" >1100</text>
<text x="0" y="0" font-size="7.35" text-anchor="middle" font-weight="normal" fill="#000" transform="translate(293.754,255.4) scale(1,1.1)" >1200</text>
<text x="0" y="0" font-size="7.35" text-anchor="middle" font-weight="normal" fill="#000" transform="translate(310.586,255.4) scale(1,1.1)" >1300</text>
<text x="0" y="0" font-size="7.35" text-anchor="middle" font-weight="normal" fill="#000" transform="translate(327.418,255.4) scale(1,1.1)" >1400</text>
<text x="0" y="0" font-size="7.35" text-anchor="middle" font-weight="normal" fill="#000" transform="translate(344.25,255.4) scale(1,1.1)" >1500</text>
<text x="0" y="0" font-size="7.35" text-anchor="middle" font-weight="normal" fill="#000" transform="translate(361.082,255.4) scale(1,1.1)" >1600</text>
<text x="0" y="0" font-size="7.35" text-anchor="middle" font-weight="normal" fill="#000" transform="translate(377.914,255.4) scale(1,1.1)" >1700</text>
<text x="0" y="0" font-size="7.3" text-anchor="middle" font-weight="normal" fill="#000" transform="translate(232.3,262.2) scale(1,1.1)" >m/z</text>
<line x1="116.5" y1="222.2" x2="116.5" y2="245.2" stroke="#222" stroke-width="1.0" />
<line x1="119.5" y1="224.9" x2="119.5" y2="245.2" stroke="#222" stroke-width="1.0" />
<line x1="122.3" y1="233.8" x2="122.3" y2="245.2" stroke="#888" stroke-width="1.2" />
<line x1="124.0" y1="222.9" x2="124.0" y2="245.2" stroke="#999" stroke-width="1.2" />
<line x1="126.7" y1="231.7" x2="126.7" y2="245.2" stroke="#bbb" stroke-width="1.2" />
<line x1="128.9" y1="214.2" x2="128.9" y2="245.2" stroke="#777" stroke-width="1.2" />
<line x1="130.5" y1="122.2" x2="130.5" y2="245.2" stroke="#333" stroke-width="1.0" />
<line x1="131.5" y1="230.4" x2="131.5" y2="245.2" stroke="#222" stroke-width="1.0" />
<line x1="135.0" y1="146.6" x2="135.0" y2="245.2" stroke="#8a8a8a" stroke-width="1.5" />
<line x1="135.5" y1="232.0" x2="135.5" y2="245.2" stroke="#333" stroke-width="1.0" />
<line x1="138.5" y1="237.2" x2="138.5" y2="245.2" stroke="#222" stroke-width="1.0" />
<line x1="141.6" y1="215.4" x2="141.6" y2="245.2" stroke="#999" stroke-width="1.2" />
<line x1="143.9" y1="218.8" x2="143.9" y2="245.2" stroke="#999" stroke-width="1.1" />
<line x1="145.5" y1="237.9" x2="145.5" y2="245.2" stroke="#222" stroke-width="1.0" />
<line x1="147.5" y1="233.8" x2="147.5" y2="245.2" stroke="#888" stroke-width="1.0" />
<line x1="151.4" y1="219.0" x2="151.4" y2="245.2" stroke="#888" stroke-width="1.2" />
<line x1="154.5" y1="239.0" x2="154.5" y2="245.2" stroke="#333" stroke-width="1.0" />
<line x1="159.5" y1="228.5" x2="159.5" y2="245.2" stroke="#222" stroke-width="1.0" />
<line x1="162.5" y1="238.8" x2="162.5" y2="245.2" stroke="#222" stroke-width="1.0" />
<line x1="164.5" y1="235.0" x2="164.5" y2="245.2" stroke="#888" stroke-width="1.0" />
<line x1="167.5" y1="240.0" x2="167.5" y2="245.2" stroke="#333" stroke-width="1.0" />
<line x1="169.6" y1="219.0" x2="169.6" y2="245.2" stroke="#888" stroke-width="1.2" />
<line x1="175.5" y1="235.0" x2="175.5" y2="245.2" stroke="#888" stroke-width="1.0" />
<line x1="181.5" y1="240.0" x2="181.5" y2="245.2" stroke="#333" stroke-width="1.0" />
<line x1="184.5" y1="233.0" x2="184.5" y2="245.2" stroke="#888" stroke-width="1.0" />
<line x1="188.5" y1="230.5" x2="188.5" y2="245.2" stroke="#222" stroke-width="1.0" />
<line x1="194.5" y1="240.5" x2="194.5" y2="245.2" stroke="#333" stroke-width="1.0" />
<line x1="200.5" y1="237.5" x2="200.5" y2="245.2" stroke="#555" stroke-width="1.0" />
<line x1="202.5" y1="238.0" x2="202.5" y2="245.2" stroke="#333" stroke-width="1.0" />
<line x1="207.5" y1="239.0" x2="207.5" y2="245.2" stroke="#444" stroke-width="1.0" />
<line x1="212.5" y1="238.5" x2="212.5" y2="245.2" stroke="#444" stroke-width="1.0" />
<line x1="220.5" y1="236.2" x2="220.5" y2="245.2" stroke="#555" stroke-width="1.0" />
<line x1="222.5" y1="229.5" x2="222.5" y2="245.2" stroke="#666" stroke-width="1.0" />
<line x1="225.2" y1="187.0" x2="225.2" y2="245.2" stroke="#8c8c8c" stroke-width="1.6" />
<line x1="230.6" y1="194.2" x2="230.6" y2="245.2" stroke="#151515" stroke-width="1.3" />
<line x1="234.5" y1="238.0" x2="234.5" y2="245.2" stroke="#333" stroke-width="1.0" />
<line x1="238.5" y1="240.0" x2="238.5" y2="245.2" stroke="#333" stroke-width="1.0" />
<line x1="246.3" y1="205.4" x2="246.3" y2="245.2" stroke="#666" stroke-width="1.1" />
<line x1="243.5" y1="240" x2="243.5" y2="245.2" stroke="#333" stroke-width="1.0" />
<line x1="252.5" y1="240" x2="252.5" y2="245.2" stroke="#333" stroke-width="1.0" />
<line x1="256.5" y1="241" x2="256.5" y2="245.2" stroke="#333" stroke-width="1.0" />
<line x1="261.5" y1="240" x2="261.5" y2="245.2" stroke="#333" stroke-width="1.0" />
<line x1="264.6" y1="194.5" x2="264.6" y2="245.2" stroke="#555" stroke-width="1.1" />
<line x1="264.5" y1="222.0" x2="264.5" y2="245.2" stroke="#333" stroke-width="1.0" />
<line x1="268.5" y1="241" x2="268.5" y2="245.2" stroke="#333" stroke-width="1.0" />
<line x1="272.5" y1="241" x2="272.5" y2="245.2" stroke="#333" stroke-width="1.0" />
<line x1="281.6" y1="233.0" x2="281.6" y2="245.2" stroke="#777" stroke-width="1.4" />
<line x1="290.2" y1="189.8" x2="290.2" y2="245.2" stroke="#888" stroke-width="1.1" />
<line x1="290.5" y1="211.0" x2="290.5" y2="245.2" stroke="#222" stroke-width="1.0" />
<line x1="296.5" y1="227.8" x2="296.5" y2="245.2" stroke="#666" stroke-width="1.0" />
<line x1="300.5" y1="242" x2="300.5" y2="245.2" stroke="#333" stroke-width="1.0" />
<line x1="306.5" y1="220.6" x2="306.5" y2="245.2" stroke="#111" stroke-width="1.0" />
<line x1="313.5" y1="234.9" x2="313.5" y2="245.2" stroke="#222" stroke-width="1.0" />
<line x1="318.5" y1="242" x2="318.5" y2="245.2" stroke="#333" stroke-width="1.0" />
<line x1="325.5" y1="237" x2="325.5" y2="245.2" stroke="#333" stroke-width="1.0" />
<line x1="327.5" y1="237.5" x2="327.5" y2="245.2" stroke="#555" stroke-width="1.0" />
<line x1="331.5" y1="241" x2="331.5" y2="245.2" stroke="#444" stroke-width="1.0" />
<line x1="338.5" y1="239" x2="338.5" y2="245.2" stroke="#333" stroke-width="1.0" />
<line x1="340.5" y1="239" x2="340.5" y2="245.2" stroke="#555" stroke-width="1.0" />
<line x1="346.5" y1="242" x2="346.5" y2="245.2" stroke="#333" stroke-width="1.0" />
<line x1="350.5" y1="242.5" x2="350.5" y2="245.2" stroke="#333" stroke-width="1.0" />
<line x1="355.5" y1="219.5" x2="355.5" y2="245.2" stroke="#888" stroke-width="1.1" />
<line x1="355.5" y1="234.0" x2="355.5" y2="245.2" stroke="#222" stroke-width="1.0" />
<line x1="362.5" y1="243" x2="362.5" y2="245.2" stroke="#333" stroke-width="1.0" />
<line x1="366.5" y1="242.5" x2="366.5" y2="245.2" stroke="#333" stroke-width="1.0" />
<line x1="371.5" y1="242.3" x2="371.5" y2="245.2" stroke="#333" stroke-width="1.0" />
<line x1="377.5" y1="243" x2="377.5" y2="245.2" stroke="#333" stroke-width="1.0" />
<line x1="381.5" y1="243" x2="381.5" y2="245.2" stroke="#333" stroke-width="1.0" />
<line x1="201.36" y1="244.33" x2="201.36" y2="245.2" stroke="#1a1a1a" stroke-width="0.55" />
<line x1="290.0" y1="244.39" x2="290.0" y2="245.2" stroke="#1a1a1a" stroke-width="0.55" />
<line x1="258.82" y1="244.12" x2="258.82" y2="245.2" stroke="#1a1a1a" stroke-width="0.55" />
<line x1="129.32" y1="243.39" x2="129.32" y2="245.2" stroke="#1a1a1a" stroke-width="0.55" />
<line x1="123.76" y1="243.68" x2="123.76" y2="245.2" stroke="#1a1a1a" stroke-width="0.55" />
<line x1="132.53" y1="244.38" x2="132.53" y2="245.2" stroke="#1a1a1a" stroke-width="0.55" />
<line x1="228.64" y1="241.44" x2="228.64" y2="245.2" stroke="#1a1a1a" stroke-width="0.55" />
<line x1="147.15" y1="244.23" x2="147.15" y2="245.2" stroke="#1a1a1a" stroke-width="0.55" />
<line x1="283.63" y1="242.09" x2="283.63" y2="245.2" stroke="#1a1a1a" stroke-width="0.55" />
<line x1="269.99" y1="244.06" x2="269.99" y2="245.2" stroke="#1a1a1a" stroke-width="0.55" />
<line x1="378.17" y1="244.4" x2="378.17" y2="245.2" stroke="#1a1a1a" stroke-width="0.55" />
<line x1="346.24" y1="244.31" x2="346.24" y2="245.2" stroke="#1a1a1a" stroke-width="0.55" />
<line x1="152.69" y1="244.36" x2="152.69" y2="245.2" stroke="#1a1a1a" stroke-width="0.55" />
<line x1="197.2" y1="241.52" x2="197.2" y2="245.2" stroke="#1a1a1a" stroke-width="0.55" />
<line x1="162.58" y1="243.03" x2="162.58" y2="245.2" stroke="#1a1a1a" stroke-width="0.55" />
<line x1="286.75" y1="244.1" x2="286.75" y2="245.2" stroke="#1a1a1a" stroke-width="0.55" />
<line x1="262.04" y1="244.39" x2="262.04" y2="245.2" stroke="#1a1a1a" stroke-width="0.55" />
<line x1="129.75" y1="244.26" x2="129.75" y2="245.2" stroke="#1a1a1a" stroke-width="0.55" />
<line x1="297.99" y1="244.0" x2="297.99" y2="245.2" stroke="#1a1a1a" stroke-width="0.55" />
<line x1="198.73" y1="243.01" x2="198.73" y2="245.2" stroke="#1a1a1a" stroke-width="0.55" />
<line x1="236.41" y1="244.08" x2="236.41" y2="245.2" stroke="#1a1a1a" stroke-width="0.55" />
<line x1="328.88" y1="243.76" x2="328.88" y2="245.2" stroke="#1a1a1a" stroke-width="0.55" />
<line x1="179.75" y1="243.07" x2="179.75" y2="245.2" stroke="#1a1a1a" stroke-width="0.55" />
<line x1="255.93" y1="242.46" x2="255.93" y2="245.2" stroke="#1a1a1a" stroke-width="0.55" />
<line x1="311.28" y1="244.31" x2="311.28" y2="245.2" stroke="#1a1a1a" stroke-width="0.55" />
<line x1="379.23" y1="244.39" x2="379.23" y2="245.2" stroke="#1a1a1a" stroke-width="0.55" />
<line x1="226.91" y1="241.96" x2="226.91" y2="245.2" stroke="#1a1a1a" stroke-width="0.55" />
<line x1="154.79" y1="243.47" x2="154.79" y2="245.2" stroke="#1a1a1a" stroke-width="0.55" />
<line x1="124.23" y1="242.55" x2="124.23" y2="245.2" stroke="#1a1a1a" stroke-width="0.55" />
<line x1="320.8" y1="243.99" x2="320.8" y2="245.2" stroke="#1a1a1a" stroke-width="0.55" />
<line x1="350.85" y1="244.29" x2="350.85" y2="245.2" stroke="#1a1a1a" stroke-width="0.55" />
<line x1="302.03" y1="243.95" x2="302.03" y2="245.2" stroke="#1a1a1a" stroke-width="0.55" />
<line x1="270.75" y1="243.94" x2="270.75" y2="245.2" stroke="#1a1a1a" stroke-width="0.55" />
<line x1="341.23" y1="243.16" x2="341.23" y2="245.2" stroke="#1a1a1a" stroke-width="0.55" />
<line x1="242.08" y1="243.34" x2="242.08" y2="245.2" stroke="#1a1a1a" stroke-width="0.55" />
<line x1="130.04" y1="242.34" x2="130.04" y2="245.2" stroke="#1a1a1a" stroke-width="0.55" />
<line x1="288.97" y1="241.84" x2="288.97" y2="245.2" stroke="#1a1a1a" stroke-width="0.55" />
<line x1="336.34" y1="244.31" x2="336.34" y2="245.2" stroke="#1a1a1a" stroke-width="0.55" />
<line x1="218.15" y1="242.54" x2="218.15" y2="245.2" stroke="#1a1a1a" stroke-width="0.55" />
<line x1="119.71" y1="243.58" x2="119.71" y2="245.2" stroke="#1a1a1a" stroke-width="0.55" />
<line x1="159.14" y1="244.36" x2="159.14" y2="245.2" stroke="#1a1a1a" stroke-width="0.55" />
<line x1="129.58" y1="241.88" x2="129.58" y2="245.2" stroke="#1a1a1a" stroke-width="0.55" />
<line x1="148.65" y1="244.19" x2="148.65" y2="245.2" stroke="#1a1a1a" stroke-width="0.55" />
<line x1="219.55" y1="241.08" x2="219.55" y2="245.2" stroke="#1a1a1a" stroke-width="0.55" />
<line x1="135.44" y1="243.63" x2="135.44" y2="245.2" stroke="#1a1a1a" stroke-width="0.55" />
<line x1="262.5" y1="242.42" x2="262.5" y2="245.2" stroke="#1a1a1a" stroke-width="0.55" />
<line x1="335.62" y1="243.39" x2="335.62" y2="245.2" stroke="#1a1a1a" stroke-width="0.55" />
<line x1="189.05" y1="243.75" x2="189.05" y2="245.2" stroke="#1a1a1a" stroke-width="0.55" />
<line x1="210.83" y1="240.97" x2="210.83" y2="245.2" stroke="#1a1a1a" stroke-width="0.55" />
<line x1="373.15" y1="244.38" x2="373.15" y2="245.2" stroke="#1a1a1a" stroke-width="0.55" />
<line x1="161.36" y1="244.22" x2="161.36" y2="245.2" stroke="#1a1a1a" stroke-width="0.55" />
<line x1="176.83" y1="243.48" x2="176.83" y2="245.2" stroke="#1a1a1a" stroke-width="0.55" />
<line x1="273.25" y1="244.26" x2="273.25" y2="245.2" stroke="#1a1a1a" stroke-width="0.55" />
<line x1="114.71" y1="243.74" x2="114.71" y2="245.2" stroke="#1a1a1a" stroke-width="0.55" />
<line x1="213.67" y1="243.11" x2="213.67" y2="245.2" stroke="#1a1a1a" stroke-width="0.55" />
<line x1="371.89" y1="243.78" x2="371.89" y2="245.2" stroke="#1a1a1a" stroke-width="0.55" />
<line x1="253.3" y1="243.5" x2="253.3" y2="245.2" stroke="#1a1a1a" stroke-width="0.55" />
<line x1="296.85" y1="244.4" x2="296.85" y2="245.2" stroke="#1a1a1a" stroke-width="0.55" />
<line x1="357.37" y1="243.59" x2="357.37" y2="245.2" stroke="#1a1a1a" stroke-width="0.55" />
<line x1="350.59" y1="243.55" x2="350.59" y2="245.2" stroke="#1a1a1a" stroke-width="0.55" />
<line x1="219.93" y1="243.8" x2="219.93" y2="245.2" stroke="#1a1a1a" stroke-width="0.55" />
<line x1="141.66" y1="242.75" x2="141.66" y2="245.2" stroke="#1a1a1a" stroke-width="0.55" />
<line x1="130.47" y1="244.39" x2="130.47" y2="245.2" stroke="#1a1a1a" stroke-width="0.55" />
<line x1="170.17" y1="244.32" x2="170.17" y2="245.2" stroke="#1a1a1a" stroke-width="0.55" />
<line x1="205.75" y1="244.39" x2="205.75" y2="245.2" stroke="#1a1a1a" stroke-width="0.55" />
<line x1="113.66" y1="244.33" x2="113.66" y2="245.2" stroke="#1a1a1a" stroke-width="0.55" />
<line x1="141.1" y1="243.91" x2="141.1" y2="245.2" stroke="#1a1a1a" stroke-width="0.55" />
<line x1="120.51" y1="241.05" x2="120.51" y2="245.2" stroke="#1a1a1a" stroke-width="0.55" />
<line x1="280.01" y1="244.36" x2="280.01" y2="245.2" stroke="#1a1a1a" stroke-width="0.55" />
<line x1="181.96" y1="243.96" x2="181.96" y2="245.2" stroke="#1a1a1a" stroke-width="0.55" />
<line x1="212.29" y1="244.36" x2="212.29" y2="245.2" stroke="#1a1a1a" stroke-width="0.55" />
<line x1="343.66" y1="243.02" x2="343.66" y2="245.2" stroke="#1a1a1a" stroke-width="0.55" />
<line x1="239.88" y1="243.49" x2="239.88" y2="245.2" stroke="#1a1a1a" stroke-width="0.55" />
<line x1="136.87" y1="244.37" x2="136.87" y2="245.2" stroke="#1a1a1a" stroke-width="0.55" />
<line x1="206.45" y1="244.16" x2="206.45" y2="245.2" stroke="#1a1a1a" stroke-width="0.55" />
<line x1="338.22" y1="244.37" x2="338.22" y2="245.2" stroke="#1a1a1a" stroke-width="0.55" />
<line x1="119.86" y1="240.37" x2="119.86" y2="245.2" stroke="#1a1a1a" stroke-width="0.55" />
<line x1="256.76" y1="244.36" x2="256.76" y2="245.2" stroke="#1a1a1a" stroke-width="0.55" />
<line x1="260.8" y1="244.4" x2="260.8" y2="245.2" stroke="#1a1a1a" stroke-width="0.55" />
<line x1="256.72" y1="241.92" x2="256.72" y2="245.2" stroke="#1a1a1a" stroke-width="0.55" />
<line x1="347.56" y1="243.77" x2="347.56" y2="245.2" stroke="#1a1a1a" stroke-width="0.55" />
<line x1="184.36" y1="243.9" x2="184.36" y2="245.2" stroke="#1a1a1a" stroke-width="0.55" />
<line x1="158.87" y1="241.85" x2="158.87" y2="245.2" stroke="#1a1a1a" stroke-width="0.55" />
<line x1="257.93" y1="242.9" x2="257.93" y2="245.2" stroke="#1a1a1a" stroke-width="0.55" />
<line x1="202.94" y1="244.23" x2="202.94" y2="245.2" stroke="#1a1a1a" stroke-width="0.55" />
<line x1="333.52" y1="243.05" x2="333.52" y2="245.2" stroke="#1a1a1a" stroke-width="0.55" />
<line x1="344.66" y1="243.53" x2="344.66" y2="245.2" stroke="#1a1a1a" stroke-width="0.55" />
<line x1="335.37" y1="243.68" x2="335.37" y2="245.2" stroke="#1a1a1a" stroke-width="0.55" />
<line x1="175.05" y1="243.34" x2="175.05" y2="245.2" stroke="#1a1a1a" stroke-width="0.55" />
<line x1="209.96" y1="244.4" x2="209.96" y2="245.2" stroke="#1a1a1a" stroke-width="0.55" />
<line x1="121.17" y1="244.13" x2="121.17" y2="245.2" stroke="#1a1a1a" stroke-width="0.55" />
<line x1="183.84" y1="242.39" x2="183.84" y2="245.2" stroke="#1a1a1a" stroke-width="0.55" />
<line x1="372.82" y1="244.16" x2="372.82" y2="245.2" stroke="#1a1a1a" stroke-width="0.55" />
<line x1="367.53" y1="243.04" x2="367.53" y2="245.2" stroke="#1a1a1a" stroke-width="0.55" />
<line x1="372.41" y1="244.25" x2="372.41" y2="245.2" stroke="#1a1a1a" stroke-width="0.55" />
<line x1="173.35" y1="244.23" x2="173.35" y2="245.2" stroke="#1a1a1a" stroke-width="0.55" />
<line x1="166.91" y1="244.26" x2="166.91" y2="245.2" stroke="#1a1a1a" stroke-width="0.55" />
<line x1="282.72" y1="242.34" x2="282.72" y2="245.2" stroke="#1a1a1a" stroke-width="0.55" />
<line x1="341.36" y1="244.12" x2="341.36" y2="245.2" stroke="#1a1a1a" stroke-width="0.55" />
<line x1="290.56" y1="242.81" x2="290.56" y2="245.2" stroke="#1a1a1a" stroke-width="0.55" />
<line x1="136.57" y1="242.59" x2="136.57" y2="245.2" stroke="#1a1a1a" stroke-width="0.55" />
<line x1="360.15" y1="243.58" x2="360.15" y2="245.2" stroke="#1a1a1a" stroke-width="0.55" />
<line x1="316.89" y1="244.12" x2="316.89" y2="245.2" stroke="#1a1a1a" stroke-width="0.55" />
<line x1="161.98" y1="241.73" x2="161.98" y2="245.2" stroke="#1a1a1a" stroke-width="0.55" />
<line x1="203.71" y1="241.64" x2="203.71" y2="245.2" stroke="#1a1a1a" stroke-width="0.55" />
<line x1="376.92" y1="244.22" x2="376.92" y2="245.2" stroke="#1a1a1a" stroke-width="0.55" />
<line x1="222.38" y1="240.41" x2="222.38" y2="245.2" stroke="#1a1a1a" stroke-width="0.55" />
<line x1="310.02" y1="244.37" x2="310.02" y2="245.2" stroke="#1a1a1a" stroke-width="0.55" />
<line x1="148.03" y1="244.33" x2="148.03" y2="245.2" stroke="#1a1a1a" stroke-width="0.55" />
<line x1="358.81" y1="243.53" x2="358.81" y2="245.2" stroke="#1a1a1a" stroke-width="0.55" />
<line x1="153.21" y1="241.44" x2="153.21" y2="245.2" stroke="#1a1a1a" stroke-width="0.55" />
<line x1="379.26" y1="243.84" x2="379.26" y2="245.2" stroke="#1a1a1a" stroke-width="0.55" />
<line x1="208.56" y1="243.2" x2="208.56" y2="245.2" stroke="#1a1a1a" stroke-width="0.55" />
<line x1="149.1" y1="244.4" x2="149.1" y2="245.2" stroke="#1a1a1a" stroke-width="0.55" />
<line x1="376.71" y1="243.86" x2="376.71" y2="245.2" stroke="#1a1a1a" stroke-width="0.55" />
<line x1="256.3" y1="242.16" x2="256.3" y2="245.2" stroke="#1a1a1a" stroke-width="0.55" />
<line x1="231.16" y1="241.07" x2="231.16" y2="245.2" stroke="#1a1a1a" stroke-width="0.55" />
<line x1="337.49" y1="244.35" x2="337.49" y2="245.2" stroke="#1a1a1a" stroke-width="0.55" />
<line x1="181.85" y1="244.1" x2="181.85" y2="245.2" stroke="#1a1a1a" stroke-width="0.55" />
<line x1="178.79" y1="243.01" x2="178.79" y2="245.2" stroke="#1a1a1a" stroke-width="0.55" />
<line x1="183.89" y1="243.74" x2="183.89" y2="245.2" stroke="#1a1a1a" stroke-width="0.55" />
<line x1="149.12" y1="240.74" x2="149.12" y2="245.2" stroke="#1a1a1a" stroke-width="0.55" />
<line x1="209.48" y1="243.59" x2="209.48" y2="245.2" stroke="#1a1a1a" stroke-width="0.55" />
<line x1="271.69" y1="242.32" x2="271.69" y2="245.2" stroke="#1a1a1a" stroke-width="0.55" />
<line x1="227.59" y1="240.67" x2="227.59" y2="245.2" stroke="#1a1a1a" stroke-width="0.55" />
<line x1="249.55" y1="243.75" x2="249.55" y2="245.2" stroke="#1a1a1a" stroke-width="0.55" />
<line x1="255.47" y1="244.4" x2="255.47" y2="245.2" stroke="#1a1a1a" stroke-width="0.55" />
<line x1="232.87" y1="244.29" x2="232.87" y2="245.2" stroke="#1a1a1a" stroke-width="0.55" />
<line x1="114.67" y1="241.65" x2="114.67" y2="245.2" stroke="#1a1a1a" stroke-width="0.55" />
<line x1="160.31" y1="243.53" x2="160.31" y2="245.2" stroke="#1a1a1a" stroke-width="0.55" />
<line x1="310.13" y1="244.01" x2="310.13" y2="245.2" stroke="#1a1a1a" stroke-width="0.55" />
<line x1="201.94" y1="243.34" x2="201.94" y2="245.2" stroke="#1a1a1a" stroke-width="0.55" />
<line x1="264.12" y1="242.88" x2="264.12" y2="245.2" stroke="#1a1a1a" stroke-width="0.55" />
<line x1="142.36" y1="243.14" x2="142.36" y2="245.2" stroke="#1a1a1a" stroke-width="0.55" />
<line x1="180.94" y1="244.13" x2="180.94" y2="245.2" stroke="#1a1a1a" stroke-width="0.55" />
<line x1="322.88" y1="244.08" x2="322.88" y2="245.2" stroke="#1a1a1a" stroke-width="0.55" />
<line x1="265.83" y1="242.98" x2="265.83" y2="245.2" stroke="#1a1a1a" stroke-width="0.55" />
<line x1="360.88" y1="244.17" x2="360.88" y2="245.2" stroke="#1a1a1a" stroke-width="0.55" />
<line x1="279.6" y1="243.82" x2="279.6" y2="245.2" stroke="#1a1a1a" stroke-width="0.55" />
<line x1="252.4" y1="243.24" x2="252.4" y2="245.2" stroke="#1a1a1a" stroke-width="0.55" />
<line x1="236.19" y1="243.27" x2="236.19" y2="245.2" stroke="#1a1a1a" stroke-width="0.55" />
<line x1="243.15" y1="242.12" x2="243.15" y2="245.2" stroke="#1a1a1a" stroke-width="0.55" />
<line x1="303.09" y1="243.35" x2="303.09" y2="245.2" stroke="#1a1a1a" stroke-width="0.55" />
<line x1="368.93" y1="244.33" x2="368.93" y2="245.2" stroke="#1a1a1a" stroke-width="0.55" />
<line x1="265.23" y1="242.11" x2="265.23" y2="245.2" stroke="#1a1a1a" stroke-width="0.55" />
<line x1="341.24" y1="244.38" x2="341.24" y2="245.2" stroke="#1a1a1a" stroke-width="0.55" />
<line x1="146.56" y1="243.65" x2="146.56" y2="245.2" stroke="#1a1a1a" stroke-width="0.55" />
<line x1="133.26" y1="244.2" x2="133.26" y2="245.2" stroke="#1a1a1a" stroke-width="0.55" />
<line x1="133.42" y1="242.54" x2="133.42" y2="245.2" stroke="#1a1a1a" stroke-width="0.55" />
<line x1="326.05" y1="243.3" x2="326.05" y2="245.2" stroke="#1a1a1a" stroke-width="0.55" />
<line x1="155.46" y1="242.24" x2="155.46" y2="245.2" stroke="#1a1a1a" stroke-width="0.55" />
<line x1="292.53" y1="244.36" x2="292.53" y2="245.2" stroke="#1a1a1a" stroke-width="0.55" />
<line x1="352.85" y1="243.1" x2="352.85" y2="245.2" stroke="#1a1a1a" stroke-width="0.55" />
<line x1="173.11" y1="240.36" x2="173.11" y2="245.2" stroke="#1a1a1a" stroke-width="0.55" />
<line x1="221.53" y1="243.47" x2="221.53" y2="245.2" stroke="#1a1a1a" stroke-width="0.55" />
<line x1="381.86" y1="243.46" x2="381.86" y2="245.2" stroke="#1a1a1a" stroke-width="0.55" />
<line x1="157.36" y1="243.69" x2="157.36" y2="245.2" stroke="#1a1a1a" stroke-width="0.55" />
<line x1="253.33" y1="244.16" x2="253.33" y2="245.2" stroke="#1a1a1a" stroke-width="0.55" />
<line x1="166.65" y1="244.04" x2="166.65" y2="245.2" stroke="#1a1a1a" stroke-width="0.55" />
<line x1="309.3" y1="244.4" x2="309.3" y2="245.2" stroke="#1a1a1a" stroke-width="0.55" />
<line x1="263.75" y1="243.97" x2="263.75" y2="245.2" stroke="#1a1a1a" stroke-width="0.55" />
<line x1="118.5" y1="244.0" x2="118.5" y2="245.2" stroke="#1a1a1a" stroke-width="0.55" />
<line x1="282.68" y1="243.8" x2="282.68" y2="245.2" stroke="#1a1a1a" stroke-width="0.55" />
<line x1="131.02" y1="240.05" x2="131.02" y2="245.2" stroke="#1a1a1a" stroke-width="0.55" />
<line x1="327.25" y1="243.09" x2="327.25" y2="245.2" stroke="#1a1a1a" stroke-width="0.55" />
<line x1="142.0" y1="244.16" x2="142.0" y2="245.2" stroke="#1a1a1a" stroke-width="0.55" />
<line x1="124.33" y1="241.8" x2="124.33" y2="245.2" stroke="#1a1a1a" stroke-width="0.55" />
<line x1="186.89" y1="244.35" x2="186.89" y2="245.2" stroke="#1a1a1a" stroke-width="0.55" />
<line x1="228.03" y1="240.73" x2="228.03" y2="245.2" stroke="#1a1a1a" stroke-width="0.55" />
<line x1="335.54" y1="244.33" x2="335.54" y2="245.2" stroke="#1a1a1a" stroke-width="0.55" />
<line x1="154.08" y1="240.66" x2="154.08" y2="245.2" stroke="#1a1a1a" stroke-width="0.55" />
<line x1="268.23" y1="243.21" x2="268.23" y2="245.2" stroke="#1a1a1a" stroke-width="0.55" />
<line x1="137.84" y1="244.39" x2="137.84" y2="245.2" stroke="#1a1a1a" stroke-width="0.55" />
<line x1="300.1" y1="244.19" x2="300.1" y2="245.2" stroke="#1a1a1a" stroke-width="0.55" />
<line x1="133.22" y1="240.49" x2="133.22" y2="245.2" stroke="#1a1a1a" stroke-width="0.55" />
<line x1="285.53" y1="242.8" x2="285.53" y2="245.2" stroke="#1a1a1a" stroke-width="0.55" />
<line x1="136.29" y1="241.2" x2="136.29" y2="245.2" stroke="#1a1a1a" stroke-width="0.55" />
<line x1="131.65" y1="241.15" x2="131.65" y2="245.2" stroke="#1a1a1a" stroke-width="0.55" />
<line x1="236.57" y1="243.98" x2="236.57" y2="245.2" stroke="#1a1a1a" stroke-width="0.55" />
<line x1="263.48" y1="242.2" x2="263.48" y2="245.2" stroke="#1a1a1a" stroke-width="0.55" />
<line x1="186.19" y1="244.35" x2="186.19" y2="245.2" stroke="#1a1a1a" stroke-width="0.55" />
<line x1="256.39" y1="244.29" x2="256.39" y2="245.2" stroke="#1a1a1a" stroke-width="0.55" />
<line x1="143.26" y1="244.32" x2="143.26" y2="245.2" stroke="#1a1a1a" stroke-width="0.55" />
<line x1="127.25" y1="244.27" x2="127.25" y2="245.2" stroke="#1a1a1a" stroke-width="0.55" />
<line x1="198.15" y1="244.07" x2="198.15" y2="245.2" stroke="#1a1a1a" stroke-width="0.55" />
<line x1="319.42" y1="244.31" x2="319.42" y2="245.2" stroke="#1a1a1a" stroke-width="0.55" />
<line x1="249.12" y1="244.34" x2="249.12" y2="245.2" stroke="#1a1a1a" stroke-width="0.55" />
<line x1="207.64" y1="244.4" x2="207.64" y2="245.2" stroke="#1a1a1a" stroke-width="0.55" />
<line x1="181.47" y1="244.4" x2="181.47" y2="245.2" stroke="#1a1a1a" stroke-width="0.55" />
<line x1="312.26" y1="244.02" x2="312.26" y2="245.2" stroke="#1a1a1a" stroke-width="0.55" />
<line x1="164.94" y1="243.53" x2="164.94" y2="245.2" stroke="#1a1a1a" stroke-width="0.55" />
<line x1="366.89" y1="244.39" x2="366.89" y2="245.2" stroke="#1a1a1a" stroke-width="0.55" />
<line x1="335.53" y1="244.18" x2="335.53" y2="245.2" stroke="#1a1a1a" stroke-width="0.55" />
<line x1="247.75" y1="242.65" x2="247.75" y2="245.2" stroke="#1a1a1a" stroke-width="0.55" />
<line x1="220.13" y1="243.39" x2="220.13" y2="245.2" stroke="#1a1a1a" stroke-width="0.55" />
<line x1="299.98" y1="241.9" x2="299.98" y2="245.2" stroke="#1a1a1a" stroke-width="0.55" />
<line x1="206.47" y1="241.4" x2="206.47" y2="245.2" stroke="#1a1a1a" stroke-width="0.55" />
<line x1="305.12" y1="243.88" x2="305.12" y2="245.2" stroke="#1a1a1a" stroke-width="0.55" />
<line x1="223.27" y1="243.96" x2="223.27" y2="245.2" stroke="#1a1a1a" stroke-width="0.55" />
<line x1="128.34" y1="244.35" x2="128.34" y2="245.2" stroke="#1a1a1a" stroke-width="0.55" />
<line x1="132.77" y1="242.07" x2="132.77" y2="245.2" stroke="#1a1a1a" stroke-width="0.55" />
<line x1="182.87" y1="244.32" x2="182.87" y2="245.2" stroke="#1a1a1a" stroke-width="0.55" />
<line x1="136.5" y1="241.32" x2="136.5" y2="245.2" stroke="#1a1a1a" stroke-width="0.55" />
<line x1="349.52" y1="243.82" x2="349.52" y2="245.2" stroke="#1a1a1a" stroke-width="0.55" />
<line x1="190.0" y1="244.2" x2="190.0" y2="245.2" stroke="#1a1a1a" stroke-width="0.55" />
<line x1="193.02" y1="243.59" x2="193.02" y2="245.2" stroke="#1a1a1a" stroke-width="0.55" />
<line x1="156.29" y1="243.64" x2="156.29" y2="245.2" stroke="#1a1a1a" stroke-width="0.55" />
<line x1="184.94" y1="240.27" x2="184.94" y2="245.2" stroke="#1a1a1a" stroke-width="0.55" />
<line x1="377.18" y1="244.03" x2="377.18" y2="245.2" stroke="#1a1a1a" stroke-width="0.55" />
<line x1="179.84" y1="240.23" x2="179.84" y2="245.2" stroke="#1a1a1a" stroke-width="0.55" />
<line x1="197.49" y1="243.93" x2="197.49" y2="245.2" stroke="#1a1a1a" stroke-width="0.55" />
<line x1="113.89" y1="243.86" x2="113.89" y2="245.2" stroke="#1a1a1a" stroke-width="0.55" />
<line x1="242.23" y1="243.83" x2="242.23" y2="245.2" stroke="#1a1a1a" stroke-width="0.55" />
<line x1="168.07" y1="243.4" x2="168.07" y2="245.2" stroke="#1a1a1a" stroke-width="0.55" />
<line x1="114.94" y1="244.16" x2="114.94" y2="245.2" stroke="#1a1a1a" stroke-width="0.55" />
<line x1="137.92" y1="243.8" x2="137.92" y2="245.2" stroke="#1a1a1a" stroke-width="0.55" />
<line x1="124.89" y1="244.4" x2="124.89" y2="245.2" stroke="#1a1a1a" stroke-width="0.55" />
<line x1="196.05" y1="244.22" x2="196.05" y2="245.2" stroke="#1a1a1a" stroke-width="0.55" />
<line x1="272.29" y1="243.76" x2="272.29" y2="245.2" stroke="#1a1a1a" stroke-width="0.55" />
<line x1="317.0" y1="243.84" x2="317.0" y2="245.2" stroke="#1a1a1a" stroke-width="0.55" />
<line x1="307.63" y1="243.35" x2="307.63" y2="245.2" stroke="#1a1a1a" stroke-width="0.55" />
<line x1="219.16" y1="244.02" x2="219.16" y2="245.2" stroke="#1a1a1a" stroke-width="0.55" />
<line x1="380.46" y1="244.38" x2="380.46" y2="245.2" stroke="#1a1a1a" stroke-width="0.55" />
<line x1="309.85" y1="243.87" x2="309.85" y2="245.2" stroke="#1a1a1a" stroke-width="0.55" />
<line x1="125.47" y1="241.37" x2="125.47" y2="245.2" stroke="#1a1a1a" stroke-width="0.55" />
<line x1="355.32" y1="243.9" x2="355.32" y2="245.2" stroke="#1a1a1a" stroke-width="0.55" />
<line x1="312.47" y1="243.51" x2="312.47" y2="245.2" stroke="#1a1a1a" stroke-width="0.55" />
<line x1="151.35" y1="243.32" x2="151.35" y2="245.2" stroke="#1a1a1a" stroke-width="0.55" />
<line x1="250.28" y1="242.65" x2="250.28" y2="245.2" stroke="#1a1a1a" stroke-width="0.55" />
<line x1="331.67" y1="243.48" x2="331.67" y2="245.2" stroke="#1a1a1a" stroke-width="0.55" />
<line x1="271.88" y1="242.37" x2="271.88" y2="245.2" stroke="#1a1a1a" stroke-width="0.55" />
<line x1="298.66" y1="243.24" x2="298.66" y2="245.2" stroke="#1a1a1a" stroke-width="0.55" />
<line x1="175.91" y1="244.4" x2="175.91" y2="245.2" stroke="#1a1a1a" stroke-width="0.55" />
<line x1="149.67" y1="243.92" x2="149.67" y2="245.2" stroke="#1a1a1a" stroke-width="0.55" />
<line x1="142.03" y1="241.37" x2="142.03" y2="245.2" stroke="#1a1a1a" stroke-width="0.55" />
<line x1="264.96" y1="243.47" x2="264.96" y2="245.2" stroke="#1a1a1a" stroke-width="0.55" />
<line x1="283.31" y1="243.28" x2="283.31" y2="245.2" stroke="#1a1a1a" stroke-width="0.55" />
<line x1="246.2" y1="244.4" x2="246.2" y2="245.2" stroke="#1a1a1a" stroke-width="0.55" />
<line x1="329.78" y1="243.66" x2="329.78" y2="245.2" stroke="#1a1a1a" stroke-width="0.55" />
<line x1="249.91" y1="243.74" x2="249.91" y2="245.2" stroke="#1a1a1a" stroke-width="0.55" />
<line x1="292.27" y1="244.39" x2="292.27" y2="245.2" stroke="#1a1a1a" stroke-width="0.55" />
<line x1="313.27" y1="244.33" x2="313.27" y2="245.2" stroke="#1a1a1a" stroke-width="0.55" />
<line x1="133.78" y1="244.16" x2="133.78" y2="245.2" stroke="#1a1a1a" stroke-width="0.55" />
<line x1="311.25" y1="244.36" x2="311.25" y2="245.2" stroke="#1a1a1a" stroke-width="0.55" />
<line x1="314.09" y1="243.07" x2="314.09" y2="245.2" stroke="#1a1a1a" stroke-width="0.55" />
<line x1="247.46" y1="244.09" x2="247.46" y2="245.2" stroke="#1a1a1a" stroke-width="0.55" />
<line x1="243.41" y1="243.27" x2="243.41" y2="245.2" stroke="#1a1a1a" stroke-width="0.55" />
<line x1="321.45" y1="243.92" x2="321.45" y2="245.2" stroke="#1a1a1a" stroke-width="0.55" />
<line x1="287.79" y1="244.39" x2="287.79" y2="245.2" stroke="#1a1a1a" stroke-width="0.55" />
<line x1="153.55" y1="244.18" x2="153.55" y2="245.2" stroke="#1a1a1a" stroke-width="0.55" />
<line x1="315.01" y1="244.3" x2="315.01" y2="245.2" stroke="#1a1a1a" stroke-width="0.55" />
<line x1="267.46" y1="244.4" x2="267.46" y2="245.2" stroke="#1a1a1a" stroke-width="0.55" />
<line x1="130.04" y1="244.15" x2="130.04" y2="245.2" stroke="#1a1a1a" stroke-width="0.55" />
<line x1="295.71" y1="243.24" x2="295.71" y2="245.2" stroke="#1a1a1a" stroke-width="0.55" />
<line x1="296.72" y1="244.23" x2="296.72" y2="245.2" stroke="#1a1a1a" stroke-width="0.55" />
<line x1="253.58" y1="243.92" x2="253.58" y2="245.2" stroke="#1a1a1a" stroke-width="0.55" />
<line x1="239.98" y1="244.36" x2="239.98" y2="245.2" stroke="#1a1a1a" stroke-width="0.55" />
<line x1="355.78" y1="244.36" x2="355.78" y2="245.2" stroke="#1a1a1a" stroke-width="0.55" />
<line x1="378.67" y1="243.19" x2="378.67" y2="245.2" stroke="#1a1a1a" stroke-width="0.55" />
<line x1="118.34" y1="243.59" x2="118.34" y2="245.2" stroke="#1a1a1a" stroke-width="0.55" />
<line x1="335.79" y1="243.1" x2="335.79" y2="245.2" stroke="#1a1a1a" stroke-width="0.55" />
<line x1="235.4" y1="244.15" x2="235.4" y2="245.2" stroke="#1a1a1a" stroke-width="0.55" />
<line x1="170.47" y1="240.42" x2="170.47" y2="245.2" stroke="#1a1a1a" stroke-width="0.55" />
<line x1="170.7" y1="243.03" x2="170.7" y2="245.2" stroke="#1a1a1a" stroke-width="0.55" />
<line x1="152.01" y1="243.31" x2="152.01" y2="245.2" stroke="#1a1a1a" stroke-width="0.55" />
<line x1="371.79" y1="244.38" x2="371.79" y2="245.2" stroke="#1a1a1a" stroke-width="0.55" />
<line x1="335.88" y1="244.08" x2="335.88" y2="245.2" stroke="#1a1a1a" stroke-width="0.55" />
<line x1="353.94" y1="243.75" x2="353.94" y2="245.2" stroke="#1a1a1a" stroke-width="0.55" />
<line x1="176.3" y1="240.85" x2="176.3" y2="245.2" stroke="#1a1a1a" stroke-width="0.55" />
<line x1="245.34" y1="244.4" x2="245.34" y2="245.2" stroke="#1a1a1a" stroke-width="0.55" />
<line x1="114.57" y1="243.46" x2="114.57" y2="245.2" stroke="#1a1a1a" stroke-width="0.55" />
<line x1="235.76" y1="244.08" x2="235.76" y2="245.2" stroke="#1a1a1a" stroke-width="0.55" />
<line x1="151.73" y1="243.97" x2="151.73" y2="245.2" stroke="#1a1a1a" stroke-width="0.55" />
<line x1="199.26" y1="241.33" x2="199.26" y2="245.2" stroke="#1a1a1a" stroke-width="0.55" />
<line x1="114.07" y1="242.01" x2="114.07" y2="245.2" stroke="#1a1a1a" stroke-width="0.55" />
<line x1="341.0" y1="244.39" x2="341.0" y2="245.2" stroke="#1a1a1a" stroke-width="0.55" />
<line x1="364.65" y1="243.73" x2="364.65" y2="245.2" stroke="#1a1a1a" stroke-width="0.55" />
<line x1="357.92" y1="244.31" x2="357.92" y2="245.2" stroke="#1a1a1a" stroke-width="0.55" />
<line x1="214.47" y1="243.82" x2="214.47" y2="245.2" stroke="#1a1a1a" stroke-width="0.55" />
<line x1="384.27" y1="243.96" x2="384.27" y2="245.2" stroke="#1a1a1a" stroke-width="0.55" />
<line x1="211.35" y1="243.7" x2="211.35" y2="245.2" stroke="#1a1a1a" stroke-width="0.55" />
<line x1="188.17" y1="244.39" x2="188.17" y2="245.2" stroke="#1a1a1a" stroke-width="0.55" />
<line x1="141.16" y1="241.38" x2="141.16" y2="245.2" stroke="#1a1a1a" stroke-width="0.55" />
<line x1="191.0" y1="240.51" x2="191.0" y2="245.2" stroke="#1a1a1a" stroke-width="0.55" />
<line x1="181.17" y1="244.16" x2="181.17" y2="245.2" stroke="#1a1a1a" stroke-width="0.55" />
<line x1="252.07" y1="244.33" x2="252.07" y2="245.2" stroke="#1a1a1a" stroke-width="0.55" />
<line x1="214.78" y1="240.32" x2="214.78" y2="245.2" stroke="#1a1a1a" stroke-width="0.55" />
<line x1="353.24" y1="243.51" x2="353.24" y2="245.2" stroke="#1a1a1a" stroke-width="0.55" />
<line x1="284.57" y1="242.27" x2="284.57" y2="245.2" stroke="#1a1a1a" stroke-width="0.55" />
<line x1="368.53" y1="244.03" x2="368.53" y2="245.2" stroke="#1a1a1a" stroke-width="0.55" />
<line x1="308.6" y1="244.4" x2="308.6" y2="245.2" stroke="#1a1a1a" stroke-width="0.55" />
<line x1="312.07" y1="244.16" x2="312.07" y2="245.2" stroke="#1a1a1a" stroke-width="0.55" />
<line x1="317.57" y1="243.87" x2="317.57" y2="245.2" stroke="#1a1a1a" stroke-width="0.55" />
<line x1="191.16" y1="244.39" x2="191.16" y2="245.2" stroke="#1a1a1a" stroke-width="0.55" />
<line x1="364.76" y1="244.38" x2="364.76" y2="245.2" stroke="#1a1a1a" stroke-width="0.55" />
<line x1="241.56" y1="244.15" x2="241.56" y2="245.2" stroke="#1a1a1a" stroke-width="0.55" />
<line x1="194.3" y1="242.09" x2="194.3" y2="245.2" stroke="#1a1a1a" stroke-width="0.55" />
<line x1="378.18" y1="244.33" x2="378.18" y2="245.2" stroke="#1a1a1a" stroke-width="0.55" />
<line x1="291.37" y1="244.21" x2="291.37" y2="245.2" stroke="#1a1a1a" stroke-width="0.55" />
<line x1="264.63" y1="244.06" x2="264.63" y2="245.2" stroke="#1a1a1a" stroke-width="0.55" />
<line x1="158.95" y1="244.32" x2="158.95" y2="245.2" stroke="#1a1a1a" stroke-width="0.55" />
<line x1="169.93" y1="240.78" x2="169.93" y2="245.2" stroke="#1a1a1a" stroke-width="0.55" />
<line x1="248.31" y1="244.31" x2="248.31" y2="245.2" stroke="#1a1a1a" stroke-width="0.55" />
<line x1="359.2" y1="243.01" x2="359.2" y2="245.2" stroke="#1a1a1a" stroke-width="0.55" />
<line x1="235.54" y1="244.34" x2="235.54" y2="245.2" stroke="#1a1a1a" stroke-width="0.55" />
<line x1="165.74" y1="244.38" x2="165.74" y2="245.2" stroke="#1a1a1a" stroke-width="0.55" />
<line x1="206.27" y1="244.38" x2="206.27" y2="245.2" stroke="#1a1a1a" stroke-width="0.55" />
<line x1="178.4" y1="244.17" x2="178.4" y2="245.2" stroke="#1a1a1a" stroke-width="0.55" />
<line x1="267.97" y1="242.4" x2="267.97" y2="245.2" stroke="#1a1a1a" stroke-width="0.55" />
<line x1="316.76" y1="244.2" x2="316.76" y2="245.2" stroke="#1a1a1a" stroke-width="0.55" />
<line x1="225.76" y1="243.31" x2="225.76" y2="245.2" stroke="#1a1a1a" stroke-width="0.55" />
<line x1="215.73" y1="243.99" x2="215.73" y2="245.2" stroke="#1a1a1a" stroke-width="0.55" />
<line x1="130.42" y1="244.13" x2="130.42" y2="245.2" stroke="#1a1a1a" stroke-width="0.55" />
<line x1="375.84" y1="244.39" x2="375.84" y2="245.2" stroke="#1a1a1a" stroke-width="0.55" />
<line x1="250.02" y1="243.46" x2="250.02" y2="245.2" stroke="#1a1a1a" stroke-width="0.55" />
<line x1="347.44" y1="244.35" x2="347.44" y2="245.2" stroke="#1a1a1a" stroke-width="0.55" />
<line x1="187.05" y1="244.19" x2="187.05" y2="245.2" stroke="#1a1a1a" stroke-width="0.55" />
<line x1="221.93" y1="243.64" x2="221.93" y2="245.2" stroke="#1a1a1a" stroke-width="0.55" />
<line x1="372.12" y1="243.42" x2="372.12" y2="245.2" stroke="#1a1a1a" stroke-width="0.55" />
<line x1="350.15" y1="244.4" x2="350.15" y2="245.2" stroke="#1a1a1a" stroke-width="0.55" />
<line x1="122.34" y1="242.28" x2="122.34" y2="245.2" stroke="#1a1a1a" stroke-width="0.55" />
<line x1="356.33" y1="244.13" x2="356.33" y2="245.2" stroke="#1a1a1a" stroke-width="0.55" />
<line x1="272.72" y1="244.4" x2="272.72" y2="245.2" stroke="#1a1a1a" stroke-width="0.55" />
<line x1="219.7" y1="240.59" x2="219.7" y2="245.2" stroke="#1a1a1a" stroke-width="0.55" />
<line x1="337.33" y1="243.41" x2="337.33" y2="245.2" stroke="#1a1a1a" stroke-width="0.55" />
<line x1="377.08" y1="244.33" x2="377.08" y2="245.2" stroke="#1a1a1a" stroke-width="0.55" />
<line x1="143.15" y1="244.33" x2="143.15" y2="245.2" stroke="#1a1a1a" stroke-width="0.55" />
<line x1="255.16" y1="243.28" x2="255.16" y2="245.2" stroke="#1a1a1a" stroke-width="0.55" />
<line x1="368.74" y1="243.72" x2="368.74" y2="245.2" stroke="#1a1a1a" stroke-width="0.55" />
<line x1="289.03" y1="242.96" x2="289.03" y2="245.2" stroke="#1a1a1a" stroke-width="0.55" />
<line x1="123.37" y1="241.82" x2="123.37" y2="245.2" stroke="#111" stroke-width="0.6" />
<line x1="122.12" y1="240.78" x2="122.12" y2="245.2" stroke="#111" stroke-width="0.6" />
<line x1="122.7" y1="240.16" x2="122.7" y2="245.2" stroke="#111" stroke-width="0.6" />
<line x1="123.94" y1="242.93" x2="123.94" y2="245.2" stroke="#111" stroke-width="0.6" />
<line x1="122.38" y1="243.17" x2="122.38" y2="245.2" stroke="#111" stroke-width="0.6" />
<line x1="123.91" y1="241.16" x2="123.91" y2="245.2" stroke="#111" stroke-width="0.6" />
<line x1="122.34" y1="243.98" x2="122.34" y2="245.2" stroke="#111" stroke-width="0.6" />
<line x1="123.57" y1="241.68" x2="123.57" y2="245.2" stroke="#111" stroke-width="0.6" />
<line x1="130.11" y1="242.96" x2="130.11" y2="245.2" stroke="#111" stroke-width="0.6" />
<line x1="130.85" y1="244.24" x2="130.85" y2="245.2" stroke="#111" stroke-width="0.6" />
<line x1="129.81" y1="241.54" x2="129.81" y2="245.2" stroke="#111" stroke-width="0.6" />
<line x1="132.11" y1="240.43" x2="132.11" y2="245.2" stroke="#111" stroke-width="0.6" />
<line x1="131.84" y1="241.45" x2="131.84" y2="245.2" stroke="#111" stroke-width="0.6" />
<line x1="129.57" y1="242.82" x2="129.57" y2="245.2" stroke="#111" stroke-width="0.6" />
<line x1="132.11" y1="240.07" x2="132.11" y2="245.2" stroke="#111" stroke-width="0.6" />
<line x1="129.83" y1="244.17" x2="129.83" y2="245.2" stroke="#111" stroke-width="0.6" />
<line x1="155.0" y1="242.61" x2="155.0" y2="245.2" stroke="#111" stroke-width="0.6" />
<line x1="154.84" y1="243.66" x2="154.84" y2="245.2" stroke="#111" stroke-width="0.6" />
<line x1="155.33" y1="241.99" x2="155.33" y2="245.2" stroke="#111" stroke-width="0.6" />
<line x1="154.45" y1="244.21" x2="154.45" y2="245.2" stroke="#111" stroke-width="0.6" />
<line x1="154.68" y1="243.25" x2="154.68" y2="245.2" stroke="#111" stroke-width="0.6" />
<line x1="155.37" y1="243.8" x2="155.37" y2="245.2" stroke="#111" stroke-width="0.6" />
<line x1="155.59" y1="242.45" x2="155.59" y2="245.2" stroke="#111" stroke-width="0.6" />
<line x1="155.01" y1="243.79" x2="155.01" y2="245.2" stroke="#111" stroke-width="0.6" />
<line x1="169.17" y1="243.36" x2="169.17" y2="245.2" stroke="#111" stroke-width="0.6" />
<line x1="168.8" y1="243.61" x2="168.8" y2="245.2" stroke="#111" stroke-width="0.6" />
<line x1="167.3" y1="242.02" x2="167.3" y2="245.2" stroke="#111" stroke-width="0.6" />
<line x1="167.49" y1="241.44" x2="167.49" y2="245.2" stroke="#111" stroke-width="0.6" />
<line x1="167.99" y1="243.74" x2="167.99" y2="245.2" stroke="#111" stroke-width="0.6" />
<line x1="167.31" y1="243.05" x2="167.31" y2="245.2" stroke="#111" stroke-width="0.6" />
<line x1="168.41" y1="241.45" x2="168.41" y2="245.2" stroke="#111" stroke-width="0.6" />
<line x1="167.12" y1="243.12" x2="167.12" y2="245.2" stroke="#111" stroke-width="0.6" />
<line x1="181.28" y1="241.86" x2="181.28" y2="245.2" stroke="#111" stroke-width="0.6" />
<line x1="181.1" y1="244.17" x2="181.1" y2="245.2" stroke="#111" stroke-width="0.6" />
<line x1="180.9" y1="243.32" x2="180.9" y2="245.2" stroke="#111" stroke-width="0.6" />
<line x1="183.0" y1="242.09" x2="183.0" y2="245.2" stroke="#111" stroke-width="0.6" />
<line x1="182.58" y1="241.81" x2="182.58" y2="245.2" stroke="#111" stroke-width="0.6" />
<line x1="183.08" y1="243.48" x2="183.08" y2="245.2" stroke="#111" stroke-width="0.6" />
<line x1="181.21" y1="241.96" x2="181.21" y2="245.2" stroke="#111" stroke-width="0.6" />
<line x1="182.62" y1="244.22" x2="182.62" y2="245.2" stroke="#111" stroke-width="0.6" />
<line x1="201.49" y1="243.16" x2="201.49" y2="245.2" stroke="#111" stroke-width="0.6" />
<line x1="200.62" y1="243.3" x2="200.62" y2="245.2" stroke="#111" stroke-width="0.6" />
<line x1="200.01" y1="244.29" x2="200.01" y2="245.2" stroke="#111" stroke-width="0.6" />
<line x1="200.34" y1="243.25" x2="200.34" y2="245.2" stroke="#111" stroke-width="0.6" />
<line x1="202.37" y1="243.93" x2="202.37" y2="245.2" stroke="#111" stroke-width="0.6" />
<line x1="202.39" y1="243.68" x2="202.39" y2="245.2" stroke="#111" stroke-width="0.6" />
<line x1="200.57" y1="241.84" x2="200.57" y2="245.2" stroke="#111" stroke-width="0.6" />
<line x1="201.97" y1="243.0" x2="201.97" y2="245.2" stroke="#111" stroke-width="0.6" />
<line x1="219.65" y1="242.88" x2="219.65" y2="245.2" stroke="#111" stroke-width="0.6" />
<line x1="220.62" y1="241.54" x2="220.62" y2="245.2" stroke="#111" stroke-width="0.6" />
<line x1="220.08" y1="243.21" x2="220.08" y2="245.2" stroke="#111" stroke-width="0.6" />
<line x1="222.19" y1="244.21" x2="222.19" y2="245.2" stroke="#111" stroke-width="0.6" />
<line x1="220.73" y1="241.86" x2="220.73" y2="245.2" stroke="#111" stroke-width="0.6" />
<line x1="221.8" y1="244.18" x2="221.8" y2="245.2" stroke="#111" stroke-width="0.6" />
<line x1="219.6" y1="244.11" x2="219.6" y2="245.2" stroke="#111" stroke-width="0.6" />
<line x1="222.26" y1="243.53" x2="222.26" y2="245.2" stroke="#111" stroke-width="0.6" />
<line x1="112.19999999999999" y1="245.5" x2="385.5" y2="245.5" stroke="#111" stroke-width="1.2" />
<line x1="117.02" y1="246.0" x2="117.02" y2="246.9" stroke="#333" stroke-width="0.7" />
<line x1="121.23" y1="246.0" x2="121.23" y2="246.9" stroke="#333" stroke-width="0.7" />
<line x1="125.43" y1="246.0" x2="125.43" y2="247.2" stroke="#333" stroke-width="0.7" />
<line x1="129.64" y1="246.0" x2="129.64" y2="246.9" stroke="#333" stroke-width="0.7" />
<line x1="133.85" y1="246.0" x2="133.85" y2="246.9" stroke="#333" stroke-width="0.7" />
<line x1="138.06" y1="246.0" x2="138.06" y2="246.9" stroke="#333" stroke-width="0.7" />
<line x1="142.27" y1="246.0" x2="142.27" y2="247.2" stroke="#333" stroke-width="0.7" />
<line x1="146.47" y1="246.0" x2="146.47" y2="246.9" stroke="#333" stroke-width="0.7" />
<line x1="150.68" y1="246.0" x2="150.68" y2="246.9" stroke="#333" stroke-width="0.7" />
<line x1="154.89" y1="246.0" x2="154.89" y2="246.9" stroke="#333" stroke-width="0.7" />
<line x1="159.1" y1="246.0" x2="159.1" y2="247.2" stroke="#333" stroke-width="0.7" />
<line x1="163.31" y1="246.0" x2="163.31" y2="246.9" stroke="#333" stroke-width="0.7" />
<line x1="167.51" y1="246.0" x2="167.51" y2="246.9" stroke="#333" stroke-width="0.7" />
<line x1="171.72" y1="246.0" x2="171.72" y2="246.9" stroke="#333" stroke-width="0.7" />
<line x1="175.93" y1="246.0" x2="175.93" y2="247.2" stroke="#333" stroke-width="0.7" />
<line x1="180.14" y1="246.0" x2="180.14" y2="246.9" stroke="#333" stroke-width="0.7" />
<line x1="184.35" y1="246.0" x2="184.35" y2="246.9" stroke="#333" stroke-width="0.7" />
<line x1="188.55" y1="246.0" x2="188.55" y2="246.9" stroke="#333" stroke-width="0.7" />
<line x1="192.76" y1="246.0" x2="192.76" y2="247.2" stroke="#333" stroke-width="0.7" />
<line x1="196.97" y1="246.0" x2="196.97" y2="246.9" stroke="#333" stroke-width="0.7" />
<line x1="201.18" y1="246.0" x2="201.18" y2="246.9" stroke="#333" stroke-width="0.7" />
<line x1="205.39" y1="246.0" x2="205.39" y2="246.9" stroke="#333" stroke-width="0.7" />
<line x1="209.59" y1="246.0" x2="209.59" y2="247.2" stroke="#333" stroke-width="0.7" />
<line x1="213.8" y1="246.0" x2="213.8" y2="246.9" stroke="#333" stroke-width="0.7" />
<line x1="218.01" y1="246.0" x2="218.01" y2="246.9" stroke="#333" stroke-width="0.7" />
<line x1="222.22" y1="246.0" x2="222.22" y2="246.9" stroke="#333" stroke-width="0.7" />
<line x1="226.43" y1="246.0" x2="226.43" y2="247.2" stroke="#333" stroke-width="0.7" />
<line x1="230.63" y1="246.0" x2="230.63" y2="246.9" stroke="#333" stroke-width="0.7" />
<line x1="234.84" y1="246.0" x2="234.84" y2="246.9" stroke="#333" stroke-width="0.7" />
<line x1="239.05" y1="246.0" x2="239.05" y2="246.9" stroke="#333" stroke-width="0.7" />
<line x1="243.26" y1="246.0" x2="243.26" y2="247.2" stroke="#333" stroke-width="0.7" />
<line x1="247.47" y1="246.0" x2="247.47" y2="246.9" stroke="#333" stroke-width="0.7" />
<line x1="251.67" y1="246.0" x2="251.67" y2="246.9" stroke="#333" stroke-width="0.7" />
<line x1="255.88" y1="246.0" x2="255.88" y2="246.9" stroke="#333" stroke-width="0.7" />
<line x1="260.09" y1="246.0" x2="260.09" y2="247.2" stroke="#333" stroke-width="0.7" />
<line x1="264.3" y1="246.0" x2="264.3" y2="246.9" stroke="#333" stroke-width="0.7" />
<line x1="268.51" y1="246.0" x2="268.51" y2="246.9" stroke="#333" stroke-width="0.7" />
<line x1="272.71" y1="246.0" x2="272.71" y2="246.9" stroke="#333" stroke-width="0.7" />
<line x1="276.92" y1="246.0" x2="276.92" y2="247.2" stroke="#333" stroke-width="0.7" />
<line x1="281.13" y1="246.0" x2="281.13" y2="246.9" stroke="#333" stroke-width="0.7" />
<line x1="285.34" y1="246.0" x2="285.34" y2="246.9" stroke="#333" stroke-width="0.7" />
<line x1="289.55" y1="246.0" x2="289.55" y2="246.9" stroke="#333" stroke-width="0.7" />
<line x1="293.75" y1="246.0" x2="293.75" y2="247.2" stroke="#333" stroke-width="0.7" />
<line x1="297.96" y1="246.0" x2="297.96" y2="246.9" stroke="#333" stroke-width="0.7" />
<line x1="302.17" y1="246.0" x2="302.17" y2="246.9" stroke="#333" stroke-width="0.7" />
<line x1="306.38" y1="246.0" x2="306.38" y2="246.9" stroke="#333" stroke-width="0.7" />
<line x1="310.59" y1="246.0" x2="310.59" y2="247.2" stroke="#333" stroke-width="0.7" />
<line x1="314.79" y1="246.0" x2="314.79" y2="246.9" stroke="#333" stroke-width="0.7" />
<line x1="319.0" y1="246.0" x2="319.0" y2="246.9" stroke="#333" stroke-width="0.7" />
<line x1="323.21" y1="246.0" x2="323.21" y2="246.9" stroke="#333" stroke-width="0.7" />
<line x1="327.42" y1="246.0" x2="327.42" y2="247.2" stroke="#333" stroke-width="0.7" />
<line x1="331.63" y1="246.0" x2="331.63" y2="246.9" stroke="#333" stroke-width="0.7" />
<line x1="335.83" y1="246.0" x2="335.83" y2="246.9" stroke="#333" stroke-width="0.7" />
<line x1="340.04" y1="246.0" x2="340.04" y2="246.9" stroke="#333" stroke-width="0.7" />
<line x1="344.25" y1="246.0" x2="344.25" y2="247.2" stroke="#333" stroke-width="0.7" />
<line x1="348.46" y1="246.0" x2="348.46" y2="246.9" stroke="#333" stroke-width="0.7" />
<line x1="352.67" y1="246.0" x2="352.67" y2="246.9" stroke="#333" stroke-width="0.7" />
<line x1="356.87" y1="246.0" x2="356.87" y2="246.9" stroke="#333" stroke-width="0.7" />
<line x1="361.08" y1="246.0" x2="361.08" y2="247.2" stroke="#333" stroke-width="0.7" />
<line x1="365.29" y1="246.0" x2="365.29" y2="246.9" stroke="#333" stroke-width="0.7" />
<line x1="369.5" y1="246.0" x2="369.5" y2="246.9" stroke="#333" stroke-width="0.7" />
<line x1="373.71" y1="246.0" x2="373.71" y2="246.9" stroke="#333" stroke-width="0.7" />
<line x1="377.91" y1="246.0" x2="377.91" y2="247.2" stroke="#333" stroke-width="0.7" />
<line x1="382.12" y1="246.0" x2="382.12" y2="246.9" stroke="#333" stroke-width="0.7" />
<line x1="143.0" y1="161.1" x2="219.5" y2="161.1" stroke="#7a7a7a" stroke-width="1.6" />
<path d="M142.6,161.1 L145.8,159.4 L145.8,162.8 Z" fill="#111"/>
<path d="M220.0,161.1 L216.8,159.4 L216.8,162.8 Z" fill="#111"/>
<text x="0" y="0" font-size="7.45" text-anchor="start" font-weight="normal" fill="#000" transform="translate(162.3,159.6) scale(1,1.1)" >482.2426 Da</text>
<text x="0" y="0" font-size="7.2" class="rl" transform="translate(124.10,190.50) rotate(-90) scale(1,0.82)">b3<tspan font-size="6.1">++</tspan>,y1<tspan font-size="6.1">+</tspan></text>
<line x1="121.7" y1="191.5" x2="121.7" y2="245" stroke="#555" stroke-width="0.7" stroke-dasharray="0.8,0.9"/>
<text x="0" y="0" font-size="7.2" class="rl" transform="translate(137.10,144.00) rotate(-90) scale(1,0.82)">b2<tspan font-size="6.1">+</tspan></text>
<text x="0" y="0" font-size="7.2" class="rl" transform="translate(144.40,156.60) rotate(-90) scale(1,0.82)">y2<tspan font-size="6.1">+</tspan></text>
<line x1="142.0" y1="157.6" x2="142.0" y2="245" stroke="#555" stroke-width="0.7" stroke-dasharray="0.8,0.9"/>
<text x="0" y="0" font-size="7.2" class="rl" transform="translate(134.60,203.90) rotate(-90) scale(1,0.82)">b4<tspan font-size="6.1">++</tspan></text>
<line x1="132.20000000000002" y1="204.9" x2="132.20000000000002" y2="245" stroke="#555" stroke-width="0.7" stroke-dasharray="0.8,0.9"/>
<text x="0" y="0" font-size="7.2" class="rl" transform="translate(151.80,203.20) rotate(-90) scale(1,0.82)">b8<tspan font-size="6.1">++</tspan></text>
<text x="0" y="0" font-size="7.2" class="rl" transform="translate(151.80,181.00) rotate(-90) scale(1,0.82)">b3<tspan font-size="6.1">+</tspan></text>
<line x1="149.4" y1="181.5" x2="149.4" y2="188.5" stroke="#555" stroke-width="0.7" stroke-dasharray="0.8,0.9"/>
<line x1="149.4" y1="204.2" x2="149.4" y2="245" stroke="#555" stroke-width="0.7" stroke-dasharray="0.8,0.9"/>
<text x="0" y="0" font-size="7.2" class="rl" transform="translate(170.90,181.80) rotate(-90) scale(1,0.82)">b4<tspan font-size="6.1">+</tspan></text>
<line x1="168.5" y1="182.8" x2="168.5" y2="219" stroke="#555" stroke-width="0.7" stroke-dasharray="0.8,0.9"/>
<text x="0" y="0" font-size="7.2" class="rl" transform="translate(175.50,203.30) rotate(-90) scale(1,0.82)">y5<tspan font-size="6.1">++</tspan></text>
<line x1="173.10000000000002" y1="204.3" x2="173.10000000000002" y2="245" stroke="#555" stroke-width="0.7" stroke-dasharray="0.8,0.9"/>
<text x="0" y="0" font-size="7.2" class="rl" transform="translate(181.60,191.50) rotate(-90) scale(1,0.82)">y6<tspan font-size="6.1">++</tspan></text>
<line x1="179.20000000000002" y1="192.5" x2="179.20000000000002" y2="245" stroke="#555" stroke-width="0.7" stroke-dasharray="0.8,0.9"/>
<text x="0" y="0" font-size="7.2" class="rl" transform="translate(194.00,189.60) rotate(-90) scale(1,0.82)">y8<tspan font-size="6.1">++</tspan></text>
<line x1="191.60000000000002" y1="190.6" x2="191.60000000000002" y2="245" stroke="#555" stroke-width="0.7" stroke-dasharray="0.8,0.9"/>
<text x="0" y="0" font-size="7.2" class="rl" transform="translate(184.60,221.30) rotate(-90) scale(1,0.82)">b10<tspan font-size="6.1">++</tspan></text>
<line x1="182.20000000000002" y1="222.3" x2="182.20000000000002" y2="245" stroke="#555" stroke-width="0.7" stroke-dasharray="0.8,0.9"/>
<text x="0" y="0" font-size="7.2" class="rl" transform="translate(190.00,205.80) rotate(-90) scale(1,0.82)">b5<tspan font-size="6.1">+</tspan></text>
<line x1="187.60000000000002" y1="206.8" x2="187.60000000000002" y2="245" stroke="#555" stroke-width="0.7" stroke-dasharray="0.8,0.9"/>
<text x="0" y="0" font-size="7.2" class="rl" transform="translate(202.10,217.00) rotate(-90) scale(1,0.82)">y9<tspan font-size="6.1">++</tspan></text>
<line x1="199.70000000000002" y1="218.0" x2="199.70000000000002" y2="245" stroke="#555" stroke-width="0.7" stroke-dasharray="0.8,0.9"/>
<text x="0" y="0" font-size="7.2" class="rl" transform="translate(206.80,199.80) rotate(-90) scale(1,0.82)">b6<tspan font-size="6.1">+</tspan></text>
<line x1="204.4" y1="200.8" x2="204.4" y2="245" stroke="#555" stroke-width="0.7" stroke-dasharray="0.8,0.9"/>
<text x="0" y="0" font-size="7.2" class="rl" transform="translate(211.80,180.80) rotate(-90) scale(1,0.82)">y10<tspan font-size="6.1">++</tspan></text>
<line x1="209.4" y1="181.8" x2="209.4" y2="245" stroke="#555" stroke-width="0.7" stroke-dasharray="0.8,0.9"/>
<text x="0" y="0" font-size="7.2" class="rl" transform="translate(220.20,187.50) rotate(-90) scale(1,0.82)">[M]<tspan font-size="6.1">+++</tspan></text>
<line x1="217.8" y1="188.5" x2="217.8" y2="245" stroke="#555" stroke-width="0.7" stroke-dasharray="0.8,0.9"/>
<text x="0" y="0" font-size="7.2" class="rl" transform="translate(226.20,188.30) rotate(-90) scale(1,0.82)">y12<tspan font-size="6.1">++</tspan></text>
<text x="0" y="0" font-size="7.2" class="rl" transform="translate(231.50,167.90) rotate(-90) scale(1,0.82)">y4<tspan font-size="6.1">+</tspan></text>
<line x1="229.10000000000002" y1="168.9" x2="229.10000000000002" y2="245" stroke="#555" stroke-width="0.7" stroke-dasharray="0.8,0.9"/>
<text x="0" y="0" font-size="7.2" class="rl" transform="translate(237.20,178.30) rotate(-90) scale(1,0.82)">y13<tspan font-size="6.1">++</tspan></text>
<line x1="234.8" y1="179.3" x2="234.8" y2="245" stroke="#555" stroke-width="0.7" stroke-dasharray="0.8,0.9"/>
<text x="0" y="0" font-size="7.2" class="rl" transform="translate(224.60,156.80) rotate(-90) scale(1,0.82)">y3<tspan font-size="6.1">+</tspan></text>
<text x="0" y="0" font-size="7.2" class="rl" transform="translate(233.80,196.20) rotate(-90) scale(1,0.82)">b8<tspan font-size="6.1">+</tspan></text>
<text x="0" y="0" font-size="7.2" class="rl" transform="translate(219.80,239.00) rotate(-90) scale(1,0.82)">b15<tspan font-size="6.1">++</tspan>, y11<tspan font-size="6.1">++</tspan></text>
<text x="0" y="0" font-size="7.2" class="rl" transform="translate(224.90,228.80) rotate(-90) scale(1,0.82)">b7<tspan font-size="6.1">+</tspan></text>
<text x="0" y="0" font-size="7.2" class="rl" transform="translate(246.80,202.40) rotate(-90) scale(1,0.82)">y5<tspan font-size="6.1">+</tspan></text>
<text x="0" y="0" font-size="7.2" class="rl" transform="translate(244.20,239.00) rotate(-90) scale(1,0.82)">y14<tspan font-size="6.1">++</tspan></text>
<text x="0" y="0" font-size="7.2" class="rl" transform="translate(252.80,239.00) rotate(-90) scale(1,0.82)">y15<tspan font-size="6.1">++</tspan></text>
<text x="0" y="0" font-size="7.2" class="rl" transform="translate(261.60,239.00) rotate(-90) scale(1,0.82)">y16<tspan font-size="6.1">++</tspan></text>
<text x="0" y="0" font-size="7.2" class="rl" transform="translate(265.80,192.00) rotate(-90) scale(1,0.82)">y6<tspan font-size="6.1">+</tspan></text>
<text x="0" y="0" font-size="7.2" class="rl" transform="translate(272.80,239.00) rotate(-90) scale(1,0.82)">b10<tspan font-size="6.1">+</tspan></text>
<text x="0" y="0" font-size="7.2" class="rl" transform="translate(279.30,240.00) rotate(-90) scale(1,0.82)">b11<tspan font-size="6.1">+</tspan></text>
<text x="0" y="0" font-size="7.2" class="rl" transform="translate(283.40,226.60) rotate(-90) scale(1,0.82)">y7<tspan font-size="6.1">+</tspan></text>
<text x="0" y="0" font-size="7.2" class="rl" transform="translate(291.00,187.00) rotate(-90) scale(1,0.82)">y8<tspan font-size="6.1">+</tspan></text>
<text x="0" y="0" font-size="7.2" class="rl" transform="translate(307.40,217.00) rotate(-90) scale(1,0.82)">y9<tspan font-size="6.1">+</tspan></text>
<text x="0" y="0" font-size="7.2" class="rl" transform="translate(315.60,232.90) rotate(-90) scale(1,0.82)">b13<tspan font-size="6.1">+</tspan></text>
<text x="0" y="0" font-size="7.2" class="rl" transform="translate(330.00,232.90) rotate(-90) scale(1,0.82)">y10<tspan font-size="6.1">+</tspan></text>
<text x="0" y="0" font-size="7.2" class="rl" transform="translate(340.20,232.90) rotate(-90) scale(1,0.82)">b15<tspan font-size="6.1">+</tspan></text>
<text x="0" y="0" font-size="7.2" class="rl" transform="translate(356.90,216.10) rotate(-90) scale(1,0.82)">y12<tspan font-size="6.1">+</tspan></text>
<text x="0" y="0" font-size="7.2" class="rl" transform="translate(372.90,237.70) rotate(-90) scale(1,0.82)">y13<tspan font-size="6.1">+</tspan></text>
<line x1="220.6" y1="162.5" x2="220.6" y2="245" stroke="#555" stroke-width="0.7" stroke-dasharray="0.8,0.9"/>
</svg>
</body></html>
